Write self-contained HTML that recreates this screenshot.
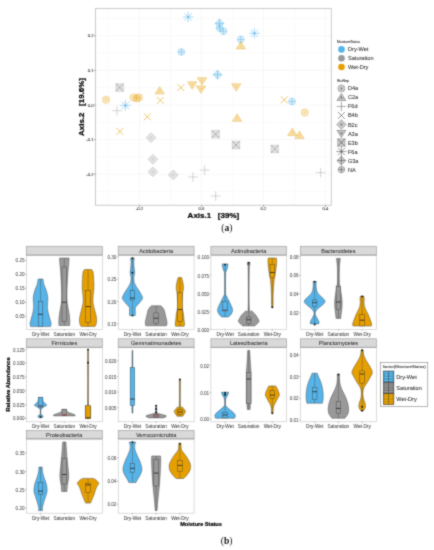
<!DOCTYPE html>
<html><head><meta charset="utf-8"><title>Figure</title>
<style>
html,body{margin:0;padding:0;background:#fff;}
body{width:434px;height:550px;overflow:hidden;}
svg{display:block;}
</style></head>
<body>
<svg width="434" height="550" viewBox="0 0 434 550">
<defs><filter id="soft" x="-50%" y="-50%" width="200%" height="200%"><feGaussianBlur stdDeviation="0.3"/></filter>
<filter id="glob" x="0" y="0" width="434" height="550" filterUnits="userSpaceOnUse" color-interpolation-filters="sRGB"><feConvolveMatrix order="3" kernelMatrix="1 2 1 2 12 2 1 2 1" divisor="24" edgeMode="duplicate"/></filter></defs>
<rect x="0" y="0" width="434" height="550" fill="#fff"/>
<g filter="url(#glob)">
<rect x="0" y="0" width="434" height="550" fill="#fff"/>
<rect x="95.5" y="8.4" width="235.7" height="196.8" fill="#fff"/>
<line x1="108.5" y1="8.4" x2="108.5" y2="205.2" stroke="#f6f6f6" stroke-width="0.5"/>
<line x1="170.5" y1="8.4" x2="170.5" y2="205.2" stroke="#f6f6f6" stroke-width="0.5"/>
<line x1="232.5" y1="8.4" x2="232.5" y2="205.2" stroke="#f6f6f6" stroke-width="0.5"/>
<line x1="294.5" y1="8.4" x2="294.5" y2="205.2" stroke="#f6f6f6" stroke-width="0.5"/>
<line x1="95.5" y1="191.5" x2="331.2" y2="191.5" stroke="#f6f6f6" stroke-width="0.5"/>
<line x1="95.5" y1="156.9" x2="331.2" y2="156.9" stroke="#f6f6f6" stroke-width="0.5"/>
<line x1="95.5" y1="122.3" x2="331.2" y2="122.3" stroke="#f6f6f6" stroke-width="0.5"/>
<line x1="95.5" y1="87.7" x2="331.2" y2="87.7" stroke="#f6f6f6" stroke-width="0.5"/>
<line x1="95.5" y1="53.1" x2="331.2" y2="53.1" stroke="#f6f6f6" stroke-width="0.5"/>
<line x1="95.5" y1="18.5" x2="331.2" y2="18.5" stroke="#f6f6f6" stroke-width="0.5"/>
<line x1="139.5" y1="8.4" x2="139.5" y2="205.2" stroke="#f2f2f2" stroke-width="0.6"/>
<line x1="201.5" y1="8.4" x2="201.5" y2="205.2" stroke="#f2f2f2" stroke-width="0.6"/>
<line x1="263.5" y1="8.4" x2="263.5" y2="205.2" stroke="#f2f2f2" stroke-width="0.6"/>
<line x1="325.5" y1="8.4" x2="325.5" y2="205.2" stroke="#f2f2f2" stroke-width="0.6"/>
<line x1="95.5" y1="174.2" x2="331.2" y2="174.2" stroke="#f2f2f2" stroke-width="0.6"/>
<line x1="95.5" y1="139.6" x2="331.2" y2="139.6" stroke="#f2f2f2" stroke-width="0.6"/>
<line x1="95.5" y1="105" x2="331.2" y2="105" stroke="#f2f2f2" stroke-width="0.6"/>
<line x1="95.5" y1="70.4" x2="331.2" y2="70.4" stroke="#f2f2f2" stroke-width="0.6"/>
<line x1="95.5" y1="35.8" x2="331.2" y2="35.8" stroke="#f2f2f2" stroke-width="0.6"/>
<g opacity="1.0" stroke="#56B4E9" fill="none" stroke-width="1.0" filter="url(#soft)"><path d="M182.98 17L193.42 17M184.51 13.31L191.89 20.69M188.2 11.78L188.2 22.22M191.89 13.31L184.51 20.69" stroke-width="0.7" stroke-opacity="0.75"/><circle cx="188.2" cy="17" r="1.0" fill="#56B4E9" stroke="none" opacity="0.6"/></g>
<g opacity="1.0" stroke="#56B4E9" fill="none" stroke-width="1.0" filter="url(#soft)"><circle cx="181.4" cy="51.9" r="3.42" fill="#56B4E9" fill-opacity="0.22" stroke-opacity="0.32" stroke-width="0.9"/><path d="M177.8 51.9H185M181.4 48.3V55.5" stroke-width="0.7" stroke-opacity="0.65"/></g>
<g opacity="1.0" stroke="#56B4E9" fill="none" stroke-width="1.0" filter="url(#soft)"><polygon points="219.5,18.9 224,23.4 219.5,27.9 215,23.4" fill="#56B4E9" fill-opacity="0.26" stroke-opacity="0.38" stroke-width="0.9"/><path d="M215 23.4H224M219.5 18.9V27.9" stroke-width="0.7" stroke-opacity="0.75"/></g>
<g opacity="1.0" stroke="#56B4E9" fill="none" stroke-width="1.0" filter="url(#soft)"><circle cx="219.5" cy="28.1" r="3.42" fill="#56B4E9" fill-opacity="0.22" stroke-opacity="0.32" stroke-width="0.9"/><path d="M215.9 28.1H223.1M219.5 24.5V31.7" stroke-width="0.7" stroke-opacity="0.65"/></g>
<g opacity="1.0" stroke="#56B4E9" fill="none" stroke-width="1.0" filter="url(#soft)"><circle cx="223.5" cy="31.2" r="3.42" fill="#56B4E9" fill-opacity="0.22" stroke-opacity="0.32" stroke-width="0.9"/><path d="M219.9 31.2H227.1M223.5 27.6V34.8" stroke-width="0.7" stroke-opacity="0.65"/></g>
<g opacity="1.0" stroke="#56B4E9" fill="none" stroke-width="1.0" filter="url(#soft)"><circle cx="240.8" cy="39.5" r="3.42" fill="#56B4E9" fill-opacity="0.22" stroke-opacity="0.32" stroke-width="0.9"/><path d="M237.2 39.5H244.4M240.8 35.9V43.1" stroke-width="0.7" stroke-opacity="0.65"/></g>
<g opacity="1.0" stroke="#56B4E9" fill="none" stroke-width="1.0" filter="url(#soft)"><path d="M249.18 33.3L259.62 33.3M250.71 29.61L258.09 36.99M254.4 28.08L254.4 38.52M258.09 29.61L250.71 36.99" stroke-width="0.7" stroke-opacity="0.75"/><circle cx="254.4" cy="33.3" r="1.0" fill="#56B4E9" stroke="none" opacity="0.6"/></g>
<g opacity="1.0" stroke="#56B4E9" fill="none" stroke-width="1.0" filter="url(#soft)"><polygon points="217.5,70.2 222,74.7 217.5,79.2 213,74.7" fill="#56B4E9" fill-opacity="0.26" stroke-opacity="0.38" stroke-width="0.9"/><path d="M213 74.7H222M217.5 70.2V79.2" stroke-width="0.7" stroke-opacity="0.75"/></g>
<g opacity="1.0" stroke="#56B4E9" fill="none" stroke-width="1.0" filter="url(#soft)"><path d="M120.18 105.4L130.62 105.4M121.71 101.71L129.09 109.09M125.4 100.18L125.4 110.62M129.09 101.71L121.71 109.09" stroke-width="0.7" stroke-opacity="0.75"/><circle cx="125.4" cy="105.4" r="1.0" fill="#56B4E9" stroke="none" opacity="0.6"/></g>
<g opacity="1.0" stroke="#56B4E9" fill="none" stroke-width="1.0" filter="url(#soft)"><circle cx="292.1" cy="101.5" r="3.42" fill="#56B4E9" fill-opacity="0.22" stroke-opacity="0.32" stroke-width="0.9"/><path d="M288.5 101.5H295.7M292.1 97.9V105.1" stroke-width="0.7" stroke-opacity="0.65"/></g>
<g opacity="1.0" stroke="#E69F00" fill="none" stroke-width="1.0" filter="url(#soft)"><polygon points="240.8,41.56 236.12,48.94 245.48,48.94" fill="#E69F00" fill-opacity="0.32" stroke-opacity="0.38" stroke-width="0.9" stroke-linejoin="round"/><polygon points="240.8,44.26 239.18,46.96 242.42,46.96" fill="#E69F00" stroke="none" opacity="0.22"/></g>
<g opacity="1.0" stroke="#E69F00" fill="none" stroke-width="1.0" filter="url(#soft)"><circle cx="106" cy="99.7" r="3.24" fill="#E69F00" fill-opacity="0.16" stroke-opacity="0.32" stroke-width="1.4"/><circle cx="106" cy="99.7" r="1.44" fill="#E69F00" stroke="none" opacity="0.3"/></g>
<g opacity="1.0" stroke="#E69F00" fill="none" stroke-width="1.0" filter="url(#soft)"><circle cx="133.5" cy="97.5" r="3.24" fill="#E69F00" fill-opacity="0.16" stroke-opacity="0.32" stroke-width="1.4"/><circle cx="133.5" cy="97.5" r="1.44" fill="#E69F00" stroke="none" opacity="0.3"/></g>
<g opacity="1.0" stroke="#E69F00" fill="none" stroke-width="1.0" filter="url(#soft)"><circle cx="136.8" cy="98.4" r="3.24" fill="#E69F00" fill-opacity="0.16" stroke-opacity="0.32" stroke-width="1.4"/><circle cx="136.8" cy="98.4" r="1.44" fill="#E69F00" stroke="none" opacity="0.3"/></g>
<g opacity="1.0" stroke="#E69F00" fill="none" stroke-width="1.0" filter="url(#soft)"><circle cx="139" cy="97.5" r="3.24" fill="#E69F00" fill-opacity="0.16" stroke-opacity="0.32" stroke-width="1.4"/><circle cx="139" cy="97.5" r="1.44" fill="#E69F00" stroke="none" opacity="0.3"/></g>
<g opacity="1.0" stroke="#E69F00" fill="none" stroke-width="1.0" filter="url(#soft)"><polygon points="159.7,86.56 155.02,93.94 164.38,93.94" fill="#E69F00" fill-opacity="0.32" stroke-opacity="0.38" stroke-width="0.9" stroke-linejoin="round"/><polygon points="159.7,89.26 158.08,91.96 161.32,91.96" fill="#E69F00" stroke="none" opacity="0.22"/></g>
<g opacity="1.0" stroke="#E69F00" fill="none" stroke-width="1.0" filter="url(#soft)"><path d="M156.88 96.98L163.72 103.82M156.88 103.82L163.72 96.98" stroke-width="0.8" stroke-opacity="0.75"/></g>
<g opacity="1.0" stroke="#E69F00" fill="none" stroke-width="1.0" filter="url(#soft)"><path d="M177.38 84.18L184.22 91.02M177.38 91.02L184.22 84.18" stroke-width="0.8" stroke-opacity="0.75"/></g>
<g opacity="1.0" stroke="#E69F00" fill="none" stroke-width="1.0" filter="url(#soft)"><path d="M143.88 113.38L150.72 120.22M143.88 120.22L150.72 113.38" stroke-width="0.8" stroke-opacity="0.75"/></g>
<g opacity="1.0" stroke="#E69F00" fill="none" stroke-width="1.0" filter="url(#soft)"><polygon points="192.2,89.24 187.52,81.86 196.88,81.86" fill="#E69F00" fill-opacity="0.32" stroke-opacity="0.38" stroke-width="0.9" stroke-linejoin="round"/><polygon points="192.2,86.54 190.58,83.84 193.82,83.84" fill="#E69F00" stroke="none" opacity="0.22"/></g>
<g opacity="1.0" stroke="#E69F00" fill="none" stroke-width="1.0" filter="url(#soft)"><polygon points="202,85.04 197.32,77.66 206.68,77.66" fill="#E69F00" fill-opacity="0.32" stroke-opacity="0.38" stroke-width="0.9" stroke-linejoin="round"/><polygon points="202,82.34 200.38,79.64 203.62,79.64" fill="#E69F00" stroke="none" opacity="0.22"/></g>
<g opacity="1.0" stroke="#E69F00" fill="none" stroke-width="1.0" filter="url(#soft)"><polygon points="200.9,93.34 196.22,85.96 205.58,85.96" fill="#E69F00" fill-opacity="0.32" stroke-opacity="0.38" stroke-width="0.9" stroke-linejoin="round"/><polygon points="200.9,90.64 199.28,87.94 202.52,87.94" fill="#E69F00" stroke="none" opacity="0.22"/></g>
<g opacity="1.0" stroke="#E69F00" fill="none" stroke-width="1.0" filter="url(#soft)"><polygon points="236.2,91.24 231.52,83.86 240.88,83.86" fill="#E69F00" fill-opacity="0.32" stroke-opacity="0.38" stroke-width="0.9" stroke-linejoin="round"/><polygon points="236.2,88.54 234.58,85.84 237.82,85.84" fill="#E69F00" stroke="none" opacity="0.22"/></g>
<g opacity="1.0" stroke="#E69F00" fill="none" stroke-width="1.0" filter="url(#soft)"><path d="M280.88 96.38L287.72 103.22M280.88 103.22L287.72 96.38" stroke-width="0.8" stroke-opacity="0.75"/></g>
<g opacity="1.0" stroke="#E69F00" fill="none" stroke-width="1.0" filter="url(#soft)"><circle cx="304.8" cy="112.5" r="3.24" fill="#E69F00" fill-opacity="0.16" stroke-opacity="0.32" stroke-width="1.4"/><circle cx="304.8" cy="112.5" r="1.44" fill="#E69F00" stroke="none" opacity="0.3"/></g>
<g opacity="1.0" stroke="#E69F00" fill="none" stroke-width="1.0" filter="url(#soft)"><path d="M116.48 127.98L123.32 134.82M116.48 134.82L123.32 127.98" stroke-width="0.8" stroke-opacity="0.75"/></g>
<g opacity="1.0" stroke="#E69F00" fill="none" stroke-width="1.0" filter="url(#soft)"><polygon points="237.1,113.86 232.42,121.24 241.78,121.24" fill="#E69F00" fill-opacity="0.32" stroke-opacity="0.38" stroke-width="0.9" stroke-linejoin="round"/><polygon points="237.1,116.56 235.48,119.26 238.72,119.26" fill="#E69F00" stroke="none" opacity="0.22"/></g>
<g opacity="1.0" stroke="#E69F00" fill="none" stroke-width="1.0" filter="url(#soft)"><polygon points="292.3,128.16 287.62,135.54 296.98,135.54" fill="#E69F00" fill-opacity="0.32" stroke-opacity="0.38" stroke-width="0.9" stroke-linejoin="round"/><polygon points="292.3,130.86 290.68,133.56 293.92,133.56" fill="#E69F00" stroke="none" opacity="0.22"/></g>
<g opacity="1.0" stroke="#E69F00" fill="none" stroke-width="1.0" filter="url(#soft)"><polygon points="299.5,131.06 294.82,138.44 304.18,138.44" fill="#E69F00" fill-opacity="0.32" stroke-opacity="0.38" stroke-width="0.9" stroke-linejoin="round"/><polygon points="299.5,133.76 297.88,136.46 301.12,136.46" fill="#E69F00" stroke="none" opacity="0.22"/></g>
<g opacity="1.0" stroke="#999999" fill="none" stroke-width="1.0" filter="url(#soft)"><rect x="115.92" y="83.72" width="7.56" height="7.56" fill="#999999" fill-opacity="0.25" stroke-opacity="0.35" stroke-width="0.8"/><path d="M115.92 83.72L123.48 91.28M115.92 91.28L123.48 83.72" stroke-width="0.9" stroke-opacity="0.8"/></g>
<g opacity="1.0" stroke="#999999" fill="none" stroke-width="1.0" filter="url(#soft)"><path d="M112.14 110.7H121.86M117 105.84V115.56" stroke-width="0.65" stroke-opacity="0.65"/></g>
<g opacity="1.0" stroke="#999999" fill="none" stroke-width="1.0" filter="url(#soft)"><polygon points="151,132.74 155.86,137.6 151,142.46 146.14,137.6" fill="#999999" fill-opacity="0.256" stroke-opacity="0.38" stroke-width="0.9"/><polygon points="151,135.66 152.94,137.6 151,139.54 149.06,137.6" fill="#999999" stroke="none" opacity="0.22"/></g>
<g opacity="1.0" stroke="#999999" fill="none" stroke-width="1.0" filter="url(#soft)"><polygon points="152.9,154.44 157.76,159.3 152.9,164.16 148.04,159.3" fill="#999999" fill-opacity="0.256" stroke-opacity="0.38" stroke-width="0.9"/><polygon points="152.9,157.36 154.84,159.3 152.9,161.24 150.96,159.3" fill="#999999" stroke="none" opacity="0.22"/></g>
<g opacity="1.0" stroke="#999999" fill="none" stroke-width="1.0" filter="url(#soft)"><polygon points="152.9,166.94 157.76,171.8 152.9,176.66 148.04,171.8" fill="#999999" fill-opacity="0.256" stroke-opacity="0.38" stroke-width="0.9"/><polygon points="152.9,169.86 154.84,171.8 152.9,173.74 150.96,171.8" fill="#999999" stroke="none" opacity="0.22"/></g>
<g opacity="1.0" stroke="#999999" fill="none" stroke-width="1.0" filter="url(#soft)"><polygon points="173.2,170.04 178.06,174.9 173.2,179.76 168.34,174.9" fill="#999999" fill-opacity="0.256" stroke-opacity="0.38" stroke-width="0.9"/><polygon points="173.2,172.96 175.14,174.9 173.2,176.84 171.26,174.9" fill="#999999" stroke="none" opacity="0.22"/></g>
<g opacity="1.0" stroke="#999999" fill="none" stroke-width="1.0" filter="url(#soft)"><path d="M188.04 177H197.76M192.9 172.14V181.86" stroke-width="0.65" stroke-opacity="0.65"/></g>
<g opacity="1.0" stroke="#999999" fill="none" stroke-width="1.0" filter="url(#soft)"><path d="M199.84 170.1H209.56M204.7 165.24V174.96" stroke-width="0.65" stroke-opacity="0.65"/></g>
<g opacity="1.0" stroke="#999999" fill="none" stroke-width="1.0" filter="url(#soft)"><path d="M210.84 196H220.56M215.7 191.14V200.86" stroke-width="0.65" stroke-opacity="0.65"/></g>
<g opacity="1.0" stroke="#999999" fill="none" stroke-width="1.0" filter="url(#soft)"><path d="M315.74 172.6H325.46M320.6 167.74V177.46" stroke-width="0.65" stroke-opacity="0.65"/></g>
<g opacity="1.0" stroke="#999999" fill="none" stroke-width="1.0" filter="url(#soft)"><rect x="211.82" y="130.42" width="7.56" height="7.56" fill="#999999" fill-opacity="0.25" stroke-opacity="0.35" stroke-width="0.8"/><path d="M211.82 130.42L219.38 137.98M211.82 137.98L219.38 130.42" stroke-width="0.9" stroke-opacity="0.8"/></g>
<g opacity="1.0" stroke="#999999" fill="none" stroke-width="1.0" filter="url(#soft)"><rect x="232.22" y="141.22" width="7.56" height="7.56" fill="#999999" fill-opacity="0.25" stroke-opacity="0.35" stroke-width="0.8"/><path d="M232.22 141.22L239.78 148.78M232.22 148.78L239.78 141.22" stroke-width="0.9" stroke-opacity="0.8"/></g>
<g opacity="1.0" stroke="#999999" fill="none" stroke-width="1.0" filter="url(#soft)"><rect x="271.02" y="145.22" width="7.56" height="7.56" fill="#999999" fill-opacity="0.25" stroke-opacity="0.35" stroke-width="0.8"/><path d="M271.02 145.22L278.58 152.78M271.02 152.78L278.58 145.22" stroke-width="0.9" stroke-opacity="0.8"/></g>
<rect x="95.5" y="8.4" width="235.7" height="196.8" fill="none" stroke="#b5b5b5" stroke-width="0.7"/>
<line x1="139.5" y1="205.2" x2="139.5" y2="206.8" stroke="#333" stroke-width="0.4"/>
<text x="139.5" y="210.41" font-size="4.2" text-anchor="middle" font-weight="normal" fill="#2b2b2b" stroke="#2b2b2b" stroke-width="0.05" font-family="'Liberation Sans', Arial, sans-serif">-0.2</text>
<line x1="201.5" y1="205.2" x2="201.5" y2="206.8" stroke="#333" stroke-width="0.4"/>
<text x="201.5" y="210.41" font-size="4.2" text-anchor="middle" font-weight="normal" fill="#2b2b2b" stroke="#2b2b2b" stroke-width="0.05" font-family="'Liberation Sans', Arial, sans-serif">0.0</text>
<line x1="263.5" y1="205.2" x2="263.5" y2="206.8" stroke="#333" stroke-width="0.4"/>
<text x="263.5" y="210.41" font-size="4.2" text-anchor="middle" font-weight="normal" fill="#2b2b2b" stroke="#2b2b2b" stroke-width="0.05" font-family="'Liberation Sans', Arial, sans-serif">0.2</text>
<line x1="325.5" y1="205.2" x2="325.5" y2="206.8" stroke="#333" stroke-width="0.4"/>
<text x="325.5" y="210.41" font-size="4.2" text-anchor="middle" font-weight="normal" fill="#2b2b2b" stroke="#2b2b2b" stroke-width="0.05" font-family="'Liberation Sans', Arial, sans-serif">0.4</text>
<line x1="93.9" y1="35.8" x2="95.5" y2="35.8" stroke="#333" stroke-width="0.4"/>
<text x="93.5" y="37.31" font-size="4.2" text-anchor="end" font-weight="normal" fill="#2b2b2b" stroke="#2b2b2b" stroke-width="0.05" font-family="'Liberation Sans', Arial, sans-serif">0.2</text>
<line x1="93.9" y1="70.4" x2="95.5" y2="70.4" stroke="#333" stroke-width="0.4"/>
<text x="93.5" y="71.91" font-size="4.2" text-anchor="end" font-weight="normal" fill="#2b2b2b" stroke="#2b2b2b" stroke-width="0.05" font-family="'Liberation Sans', Arial, sans-serif">0.1</text>
<line x1="93.9" y1="105" x2="95.5" y2="105" stroke="#333" stroke-width="0.4"/>
<text x="93.5" y="106.51" font-size="4.2" text-anchor="end" font-weight="normal" fill="#2b2b2b" stroke="#2b2b2b" stroke-width="0.05" font-family="'Liberation Sans', Arial, sans-serif">0.0</text>
<line x1="93.9" y1="139.6" x2="95.5" y2="139.6" stroke="#333" stroke-width="0.4"/>
<text x="93.5" y="141.11" font-size="4.2" text-anchor="end" font-weight="normal" fill="#2b2b2b" stroke="#2b2b2b" stroke-width="0.05" font-family="'Liberation Sans', Arial, sans-serif">-0.1</text>
<line x1="93.9" y1="174.2" x2="95.5" y2="174.2" stroke="#333" stroke-width="0.4"/>
<text x="93.5" y="175.71" font-size="4.2" text-anchor="end" font-weight="normal" fill="#2b2b2b" stroke="#2b2b2b" stroke-width="0.05" font-family="'Liberation Sans', Arial, sans-serif">-0.2</text>
<text x="213.4" y="217.98" font-size="8" text-anchor="middle" font-weight="bold" fill="#000" stroke="#000" stroke-width="0.22" font-family="'Liberation Sans', Arial, sans-serif">Axis.1&#160;&#160;&#160;[39%]</text>
<text x="81.2" y="109.86" font-size="7.94" text-anchor="middle" font-weight="bold" fill="#000" stroke="#000" stroke-width="0.22" font-family="'Liberation Sans', Arial, sans-serif" transform="rotate(-90 81.2 107)">Axis.2&#160;&#160;&#160;[19.6%]</text>
<text x="337.1" y="42.84" font-size="3.45" text-anchor="start" font-weight="normal" fill="#222" stroke="#222" stroke-width="0.05" font-family="'Liberation Sans', Arial, sans-serif">MoistureStatus</text>
<circle cx="341.5" cy="49.4" r="3.3" fill="#56B4E9"/>
<text x="348" y="51.42" font-size="5.6" text-anchor="start" font-weight="normal" fill="#2b2b2b" stroke="#2b2b2b" stroke-width="0.05" font-family="'Liberation Sans', Arial, sans-serif">Dry-Wet</text>
<circle cx="341.5" cy="58.2" r="3.3" fill="#999999"/>
<text x="348" y="60.22" font-size="5.6" text-anchor="start" font-weight="normal" fill="#2b2b2b" stroke="#2b2b2b" stroke-width="0.05" font-family="'Liberation Sans', Arial, sans-serif">Saturation</text>
<circle cx="341.5" cy="67" r="3.3" fill="#E69F00"/>
<text x="348" y="69.02" font-size="5.6" text-anchor="start" font-weight="normal" fill="#2b2b2b" stroke="#2b2b2b" stroke-width="0.05" font-family="'Liberation Sans', Arial, sans-serif">Wet-Dry</text>
<text x="337.2" y="82.1" font-size="3.6" text-anchor="start" font-weight="normal" fill="#222" stroke="#222" stroke-width="0.05" font-family="'Liberation Sans', Arial, sans-serif">BioRep</text>
<g opacity="0.9" stroke="#6a6a6a" fill="none" stroke-width="1.0" filter="url(#soft)"><circle cx="341.4" cy="88.4" r="3.15" fill="#6a6a6a" fill-opacity="0.16" stroke-opacity="0.32" stroke-width="1.4"/><circle cx="341.4" cy="88.4" r="1.4" fill="#6a6a6a" stroke="none" opacity="0.3"/></g>
<g opacity="0.6" stroke="#6a6a6a" fill="none" stroke-width="1.0" filter="url(#soft)"><circle cx="341.4" cy="88.4" r="3.15" fill="#6a6a6a" fill-opacity="0.16" stroke-opacity="0.32" stroke-width="1.4"/><circle cx="341.4" cy="88.4" r="1.4" fill="#6a6a6a" stroke="none" opacity="0.3"/></g>
<circle cx="341.4" cy="88.4" r="0.8" fill="#555" opacity="0.7" filter="url(#soft)"/>
<text x="347.9" y="90.42" font-size="5.6" text-anchor="start" font-weight="normal" fill="#2b2b2b" stroke="#2b2b2b" stroke-width="0.05" font-family="'Liberation Sans', Arial, sans-serif">D4a</text>
<g opacity="0.9" stroke="#6a6a6a" fill="none" stroke-width="1.0" filter="url(#soft)"><polygon points="341.4,93.39 336.85,100.57 345.95,100.57" fill="#6a6a6a" fill-opacity="0.32" stroke-opacity="0.38" stroke-width="0.9" stroke-linejoin="round"/><polygon points="341.4,96.02 339.82,98.64 342.97,98.64" fill="#6a6a6a" stroke="none" opacity="0.22"/></g>
<g opacity="0.6" stroke="#6a6a6a" fill="none" stroke-width="1.0" filter="url(#soft)"><polygon points="341.4,93.39 336.85,100.57 345.95,100.57" fill="#6a6a6a" fill-opacity="0.32" stroke-opacity="0.38" stroke-width="0.9" stroke-linejoin="round"/><polygon points="341.4,96.02 339.82,98.64 342.97,98.64" fill="#6a6a6a" stroke="none" opacity="0.22"/></g>
<circle cx="341.4" cy="97.42" r="0.8" fill="#555" opacity="0.7" filter="url(#soft)"/>
<text x="347.9" y="99.44" font-size="5.6" text-anchor="start" font-weight="normal" fill="#2b2b2b" stroke="#2b2b2b" stroke-width="0.05" font-family="'Liberation Sans', Arial, sans-serif">C2a</text>
<g opacity="0.9" stroke="#6a6a6a" fill="none" stroke-width="1.0" filter="url(#soft)"><path d="M336.67 106.44H346.12M341.4 101.72V111.16" stroke-width="0.65" stroke-opacity="0.65"/></g>
<g opacity="0.6" stroke="#6a6a6a" fill="none" stroke-width="1.0" filter="url(#soft)"><path d="M336.67 106.44H346.12M341.4 101.72V111.16" stroke-width="0.65" stroke-opacity="0.65"/></g>
<text x="347.9" y="108.46" font-size="5.6" text-anchor="start" font-weight="normal" fill="#2b2b2b" stroke="#2b2b2b" stroke-width="0.05" font-family="'Liberation Sans', Arial, sans-serif">F6d</text>
<g opacity="0.9" stroke="#6a6a6a" fill="none" stroke-width="1.0" filter="url(#soft)"><path d="M338.07 112.14L344.72 118.79M338.07 118.79L344.72 112.14" stroke-width="0.8" stroke-opacity="0.75"/></g>
<g opacity="0.6" stroke="#6a6a6a" fill="none" stroke-width="1.0" filter="url(#soft)"><path d="M338.07 112.14L344.72 118.79M338.07 118.79L344.72 112.14" stroke-width="0.8" stroke-opacity="0.75"/></g>
<text x="347.9" y="117.48" font-size="5.6" text-anchor="start" font-weight="normal" fill="#2b2b2b" stroke="#2b2b2b" stroke-width="0.05" font-family="'Liberation Sans', Arial, sans-serif">B4b</text>
<g opacity="0.9" stroke="#6a6a6a" fill="none" stroke-width="1.0" filter="url(#soft)"><polygon points="341.4,119.76 346.12,124.48 341.4,129.21 336.67,124.48" fill="#6a6a6a" fill-opacity="0.256" stroke-opacity="0.38" stroke-width="0.9"/><polygon points="341.4,122.59 343.29,124.48 341.4,126.37 339.51,124.48" fill="#6a6a6a" stroke="none" opacity="0.22"/></g>
<g opacity="0.6" stroke="#6a6a6a" fill="none" stroke-width="1.0" filter="url(#soft)"><polygon points="341.4,119.76 346.12,124.48 341.4,129.21 336.67,124.48" fill="#6a6a6a" fill-opacity="0.256" stroke-opacity="0.38" stroke-width="0.9"/><polygon points="341.4,122.59 343.29,124.48 341.4,126.37 339.51,124.48" fill="#6a6a6a" stroke="none" opacity="0.22"/></g>
<circle cx="341.4" cy="124.48" r="0.8" fill="#555" opacity="0.7" filter="url(#soft)"/>
<text x="347.9" y="126.5" font-size="5.6" text-anchor="start" font-weight="normal" fill="#2b2b2b" stroke="#2b2b2b" stroke-width="0.05" font-family="'Liberation Sans', Arial, sans-serif">B2c</text>
<g opacity="0.9" stroke="#6a6a6a" fill="none" stroke-width="1.0" filter="url(#soft)"><polygon points="341.4,137.53 336.85,130.35 345.95,130.35" fill="#6a6a6a" fill-opacity="0.32" stroke-opacity="0.38" stroke-width="0.9" stroke-linejoin="round"/><polygon points="341.4,134.9 339.82,132.28 342.97,132.28" fill="#6a6a6a" stroke="none" opacity="0.22"/></g>
<g opacity="0.6" stroke="#6a6a6a" fill="none" stroke-width="1.0" filter="url(#soft)"><polygon points="341.4,137.53 336.85,130.35 345.95,130.35" fill="#6a6a6a" fill-opacity="0.32" stroke-opacity="0.38" stroke-width="0.9" stroke-linejoin="round"/><polygon points="341.4,134.9 339.82,132.28 342.97,132.28" fill="#6a6a6a" stroke="none" opacity="0.22"/></g>
<circle cx="341.4" cy="133.5" r="0.8" fill="#555" opacity="0.7" filter="url(#soft)"/>
<text x="347.9" y="135.52" font-size="5.6" text-anchor="start" font-weight="normal" fill="#2b2b2b" stroke="#2b2b2b" stroke-width="0.05" font-family="'Liberation Sans', Arial, sans-serif">A3a</text>
<g opacity="0.9" stroke="#6a6a6a" fill="none" stroke-width="1.0" filter="url(#soft)"><rect x="337.72" y="138.84" width="7.35" height="7.35" fill="#6a6a6a" fill-opacity="0.25" stroke-opacity="0.35" stroke-width="0.8"/><path d="M337.72 138.84L345.07 146.2M337.72 146.2L345.07 138.84" stroke-width="0.9" stroke-opacity="0.8"/></g>
<g opacity="0.6" stroke="#6a6a6a" fill="none" stroke-width="1.0" filter="url(#soft)"><rect x="337.72" y="138.84" width="7.35" height="7.35" fill="#6a6a6a" fill-opacity="0.25" stroke-opacity="0.35" stroke-width="0.8"/><path d="M337.72 138.84L345.07 146.2M337.72 146.2L345.07 138.84" stroke-width="0.9" stroke-opacity="0.8"/></g>
<circle cx="341.4" cy="142.52" r="0.8" fill="#555" opacity="0.7" filter="url(#soft)"/>
<text x="347.9" y="144.54" font-size="5.6" text-anchor="start" font-weight="normal" fill="#2b2b2b" stroke="#2b2b2b" stroke-width="0.05" font-family="'Liberation Sans', Arial, sans-serif">E3b</text>
<g opacity="0.9" stroke="#6a6a6a" fill="none" stroke-width="1.0" filter="url(#soft)"><path d="M336.32 151.54L346.47 151.54M337.81 147.95L344.99 155.13M341.4 146.47L341.4 156.62M344.99 147.95L337.81 155.13" stroke-width="0.7" stroke-opacity="0.75"/><circle cx="341.4" cy="151.54" r="1.0" fill="#6a6a6a" stroke="none" opacity="0.6"/></g>
<g opacity="0.6" stroke="#6a6a6a" fill="none" stroke-width="1.0" filter="url(#soft)"><path d="M336.32 151.54L346.47 151.54M337.81 147.95L344.99 155.13M341.4 146.47L341.4 156.62M344.99 147.95L337.81 155.13" stroke-width="0.7" stroke-opacity="0.75"/><circle cx="341.4" cy="151.54" r="1.0" fill="#6a6a6a" stroke="none" opacity="0.6"/></g>
<circle cx="341.4" cy="151.54" r="0.8" fill="#555" opacity="0.7" filter="url(#soft)"/>
<text x="347.9" y="153.56" font-size="5.6" text-anchor="start" font-weight="normal" fill="#2b2b2b" stroke="#2b2b2b" stroke-width="0.05" font-family="'Liberation Sans', Arial, sans-serif">F6a</text>
<g opacity="0.9" stroke="#6a6a6a" fill="none" stroke-width="1.0" filter="url(#soft)"><polygon points="341.4,156.19 345.77,160.56 341.4,164.94 337.02,160.56" fill="#6a6a6a" fill-opacity="0.26" stroke-opacity="0.38" stroke-width="0.9"/><path d="M337.02 160.56H345.77M341.4 156.19V164.94" stroke-width="0.7" stroke-opacity="0.75"/></g>
<g opacity="0.6" stroke="#6a6a6a" fill="none" stroke-width="1.0" filter="url(#soft)"><polygon points="341.4,156.19 345.77,160.56 341.4,164.94 337.02,160.56" fill="#6a6a6a" fill-opacity="0.26" stroke-opacity="0.38" stroke-width="0.9"/><path d="M337.02 160.56H345.77M341.4 156.19V164.94" stroke-width="0.7" stroke-opacity="0.75"/></g>
<circle cx="341.4" cy="160.56" r="0.8" fill="#555" opacity="0.7" filter="url(#soft)"/>
<text x="347.9" y="162.58" font-size="5.6" text-anchor="start" font-weight="normal" fill="#2b2b2b" stroke="#2b2b2b" stroke-width="0.05" font-family="'Liberation Sans', Arial, sans-serif">G3a</text>
<g opacity="0.9" stroke="#6a6a6a" fill="none" stroke-width="1.0" filter="url(#soft)"><circle cx="341.4" cy="169.58" r="3.32" fill="#6a6a6a" fill-opacity="0.22" stroke-opacity="0.32" stroke-width="0.9"/><path d="M337.9 169.58H344.9M341.4 166.08V173.08" stroke-width="0.7" stroke-opacity="0.65"/></g>
<g opacity="0.6" stroke="#6a6a6a" fill="none" stroke-width="1.0" filter="url(#soft)"><circle cx="341.4" cy="169.58" r="3.32" fill="#6a6a6a" fill-opacity="0.22" stroke-opacity="0.32" stroke-width="0.9"/><path d="M337.9 169.58H344.9M341.4 166.08V173.08" stroke-width="0.7" stroke-opacity="0.65"/></g>
<circle cx="341.4" cy="169.58" r="0.8" fill="#555" opacity="0.7" filter="url(#soft)"/>
<text x="347.9" y="171.6" font-size="5.6" text-anchor="start" font-weight="normal" fill="#2b2b2b" stroke="#2b2b2b" stroke-width="0.05" font-family="'Liberation Sans', Arial, sans-serif">NA</text>
<text x="226.8" y="231.06" font-size="9.6" text-anchor="middle" font-weight="normal" fill="#111" stroke="#111" stroke-width="0" font-family="'Liberation Serif', 'Times New Roman', serif">(<tspan font-weight="bold">a</tspan>)</text>
<rect x="26.3" y="246.3" width="76" height="9" fill="#d9d9d9" stroke="#a3a3a3" stroke-width="0.7"/>
<rect x="26.3" y="255.3" width="76" height="74.1" fill="#fff" stroke="#c4c4c4" stroke-width="0.6"/>
<line x1="26.3" y1="255" x2="102.3" y2="255" stroke="#9a9a9a" stroke-width="0.8"/>
<line x1="25" y1="260.4" x2="26.3" y2="260.4" stroke="#555" stroke-width="0.4"/>
<text x="24.5" y="262.46" font-size="4.6" text-anchor="end" font-weight="normal" fill="#505050" stroke="#505050" stroke-width="0.05" font-family="'Liberation Sans', Arial, sans-serif">0.25</text>
<line x1="25" y1="274.4" x2="26.3" y2="274.4" stroke="#555" stroke-width="0.4"/>
<text x="24.5" y="276.46" font-size="4.6" text-anchor="end" font-weight="normal" fill="#505050" stroke="#505050" stroke-width="0.05" font-family="'Liberation Sans', Arial, sans-serif">0.20</text>
<line x1="25" y1="288.2" x2="26.3" y2="288.2" stroke="#555" stroke-width="0.4"/>
<text x="24.5" y="290.26" font-size="4.6" text-anchor="end" font-weight="normal" fill="#505050" stroke="#505050" stroke-width="0.05" font-family="'Liberation Sans', Arial, sans-serif">0.15</text>
<line x1="25" y1="302.3" x2="26.3" y2="302.3" stroke="#555" stroke-width="0.4"/>
<text x="24.5" y="304.36" font-size="4.6" text-anchor="end" font-weight="normal" fill="#505050" stroke="#505050" stroke-width="0.05" font-family="'Liberation Sans', Arial, sans-serif">0.10</text>
<line x1="25" y1="316.1" x2="26.3" y2="316.1" stroke="#555" stroke-width="0.4"/>
<text x="24.5" y="318.16" font-size="4.6" text-anchor="end" font-weight="normal" fill="#505050" stroke="#505050" stroke-width="0.05" font-family="'Liberation Sans', Arial, sans-serif">0.05</text>
<path d="M42.95 279C43.13 279.97 43.52 282.97 44.05 284.8C44.58 286.63 45.52 287.88 46.15 290C46.78 292.12 47.63 295.02 47.85 297.5C48.07 299.98 47.48 302.92 47.45 304.9C47.42 306.88 47.43 307.78 47.65 309.4C47.87 311.02 48.32 312.85 48.75 314.6C49.18 316.35 49.85 318.4 50.25 319.9C50.65 321.4 51.1 322.48 51.15 323.6C51.2 324.72 50.65 326.1 50.55 326.6L30.55 326.6C30.45 326.1 29.9 324.72 29.95 323.6C30 322.48 30.45 321.4 30.85 319.9C31.25 318.4 31.92 316.35 32.35 314.6C32.78 312.85 33.23 311.02 33.45 309.4C33.67 307.78 33.68 306.88 33.65 304.9C33.62 302.92 33.03 299.98 33.25 297.5C33.47 295.02 34.32 292.12 34.95 290C35.58 287.88 36.52 286.63 37.05 284.8C37.58 282.97 37.97 279.97 38.15 279Z" fill="#56B4E9" stroke="#3c3c3c" stroke-width="0.42"/>
<path d="M40.55 279V301.2M40.55 326.6V326.6" stroke="#444" stroke-width="0.38"/>
<rect x="38.25" y="301.2" width="4.6" height="25.4" fill="#56B4E9" stroke="#3a3a3a" stroke-width="0.4"/>
<line x1="38.25" y1="314.3" x2="42.85" y2="314.3" stroke="#222" stroke-width="0.8"/>
<path d="M69.1 258C69.05 258.87 68.98 260.97 68.8 263.2C68.62 265.43 68.23 268.22 68 271.4C67.77 274.58 67.57 279.12 67.4 282.3C67.23 285.48 67.07 287.78 67 290.5C66.93 293.22 66.93 296.33 67 298.6C67.07 300.87 67.17 302.28 67.4 304.1C67.63 305.92 68.08 307.68 68.4 309.5C68.72 311.32 69.07 313.17 69.3 315C69.53 316.83 69.73 318.75 69.8 320.5C69.87 322.25 69.72 324.67 69.7 325.5L58.9 325.5C58.88 324.67 58.73 322.25 58.8 320.5C58.87 318.75 59.07 316.83 59.3 315C59.53 313.17 59.88 311.32 60.2 309.5C60.52 307.68 60.97 305.92 61.2 304.1C61.43 302.28 61.53 300.87 61.6 298.6C61.67 296.33 61.67 293.22 61.6 290.5C61.53 287.78 61.37 285.48 61.2 282.3C61.03 279.12 60.83 274.58 60.6 271.4C60.37 268.22 59.98 265.43 59.8 263.2C59.62 260.97 59.55 258.87 59.5 258Z" fill="#999999" stroke="#3c3c3c" stroke-width="0.42"/>
<path d="M64.3 258V267M64.3 321.5V325.5" stroke="#444" stroke-width="0.38"/>
<rect x="62" y="267" width="4.6" height="54.5" fill="#999999" stroke="#3a3a3a" stroke-width="0.4"/>
<line x1="62" y1="302.3" x2="66.6" y2="302.3" stroke="#222" stroke-width="0.8"/>
<path d="M91.55 269.5C91.8 269.93 92.68 270.28 93.05 272.1C93.42 273.92 93.6 277.65 93.75 280.4C93.9 283.15 94.05 286.05 93.95 288.6C93.85 291.15 93.3 293.33 93.15 295.7C93 298.07 92.8 300.43 93.05 302.8C93.3 305.17 94.13 307.73 94.65 309.9C95.17 312.07 95.82 314.03 96.15 315.8C96.48 317.57 96.67 319.03 96.65 320.5C96.63 321.97 96.33 323.62 96.05 324.6C95.77 325.58 95.13 326.1 94.95 326.4L81.15 326.4C80.97 326.1 80.33 325.58 80.05 324.6C79.77 323.62 79.47 321.97 79.45 320.5C79.43 319.03 79.62 317.57 79.95 315.8C80.28 314.03 80.93 312.07 81.45 309.9C81.97 307.73 82.8 305.17 83.05 302.8C83.3 300.43 83.1 298.07 82.95 295.7C82.8 293.33 82.25 291.15 82.15 288.6C82.05 286.05 82.2 283.15 82.35 280.4C82.5 277.65 82.68 273.92 83.05 272.1C83.42 270.28 84.3 269.93 84.55 269.5Z" fill="#E69F00" stroke="#3c3c3c" stroke-width="0.42"/>
<path d="M88.05 269.5V290.4M88.05 322.3V326.4" stroke="#444" stroke-width="0.38"/>
<rect x="85.75" y="290.4" width="4.6" height="31.9" fill="#E69F00" stroke="#3a3a3a" stroke-width="0.4"/>
<line x1="85.75" y1="306.6" x2="90.35" y2="306.6" stroke="#222" stroke-width="0.8"/>
<line x1="40.55" y1="329.4" x2="40.55" y2="330.7" stroke="#555" stroke-width="0.4"/>
<text x="40.55" y="335.81" font-size="4.75" text-anchor="middle" font-weight="normal" fill="#454545" stroke="#454545" stroke-width="0.05" font-family="'Liberation Sans', Arial, sans-serif">Dry-Wet</text>
<line x1="64.3" y1="329.4" x2="64.3" y2="330.7" stroke="#555" stroke-width="0.4"/>
<text x="64.3" y="335.81" font-size="4.75" text-anchor="middle" font-weight="normal" fill="#454545" stroke="#454545" stroke-width="0.05" font-family="'Liberation Sans', Arial, sans-serif">Saturation</text>
<line x1="88.05" y1="329.4" x2="88.05" y2="330.7" stroke="#555" stroke-width="0.4"/>
<text x="88.05" y="335.81" font-size="4.75" text-anchor="middle" font-weight="normal" fill="#454545" stroke="#454545" stroke-width="0.05" font-family="'Liberation Sans', Arial, sans-serif">Wet-Dry</text>
<rect x="118.2" y="246.3" width="75.9" height="9" fill="#d9d9d9" stroke="#a3a3a3" stroke-width="0.7"/>
<text x="156.15" y="252.92" font-size="5.6" text-anchor="middle" font-weight="normal" fill="#2e2e2e" stroke="#2e2e2e" stroke-width="0.05" font-family="'Liberation Sans', Arial, sans-serif">Acidobacteria</text>
<rect x="118.2" y="255.3" width="75.9" height="74.1" fill="#fff" stroke="#c4c4c4" stroke-width="0.6"/>
<line x1="118.2" y1="255" x2="194.1" y2="255" stroke="#9a9a9a" stroke-width="0.8"/>
<line x1="116.9" y1="256.9" x2="118.2" y2="256.9" stroke="#555" stroke-width="0.4"/>
<text x="116.4" y="258.96" font-size="4.6" text-anchor="end" font-weight="normal" fill="#505050" stroke="#505050" stroke-width="0.05" font-family="'Liberation Sans', Arial, sans-serif">0.30</text>
<line x1="116.9" y1="279.2" x2="118.2" y2="279.2" stroke="#555" stroke-width="0.4"/>
<text x="116.4" y="281.26" font-size="4.6" text-anchor="end" font-weight="normal" fill="#505050" stroke="#505050" stroke-width="0.05" font-family="'Liberation Sans', Arial, sans-serif">0.25</text>
<line x1="116.9" y1="301.6" x2="118.2" y2="301.6" stroke="#555" stroke-width="0.4"/>
<text x="116.4" y="303.66" font-size="4.6" text-anchor="end" font-weight="normal" fill="#505050" stroke="#505050" stroke-width="0.05" font-family="'Liberation Sans', Arial, sans-serif">0.20</text>
<line x1="116.9" y1="323.8" x2="118.2" y2="323.8" stroke="#555" stroke-width="0.4"/>
<text x="116.4" y="325.86" font-size="4.6" text-anchor="end" font-weight="normal" fill="#505050" stroke="#505050" stroke-width="0.05" font-family="'Liberation Sans', Arial, sans-serif">0.15</text>
<path d="M134.23 258C134.16 258.87 133.83 261.43 133.83 263.2C133.83 264.97 134.08 267.02 134.23 268.6C134.38 270.18 134.8 271.22 134.73 272.7C134.66 274.18 133.91 275.9 133.83 277.5C133.75 279.1 133.84 280.82 134.23 282.3C134.62 283.78 135.4 285.03 136.18 286.4C136.96 287.77 137.97 288.92 138.93 290.5C139.89 292.08 141.35 294.55 141.93 295.9C142.51 297.25 142.81 297.47 142.43 298.6C142.05 299.73 140.73 301.33 139.63 302.7C138.53 304.07 136.55 305.67 135.83 306.8C135.11 307.93 135.41 308.05 135.33 309.5C135.25 310.95 135.33 314.5 135.33 315.5L129.53 315.5C129.53 314.5 129.61 310.95 129.53 309.5C129.45 308.05 129.75 307.93 129.03 306.8C128.31 305.67 126.33 304.07 125.23 302.7C124.13 301.33 122.81 299.73 122.43 298.6C122.05 297.47 122.35 297.25 122.93 295.9C123.51 294.55 124.97 292.08 125.93 290.5C126.89 288.92 127.9 287.77 128.68 286.4C129.46 285.03 130.24 283.78 130.63 282.3C131.02 280.82 131.11 279.1 131.03 277.5C130.95 275.9 130.2 274.18 130.13 272.7C130.06 271.22 130.48 270.18 130.63 268.6C130.78 267.02 131.03 264.97 131.03 263.2C131.03 261.43 130.7 258.87 130.63 258Z" fill="#56B4E9" stroke="#3c3c3c" stroke-width="0.42"/>
<path d="M132.43 258V290.7M132.43 300V315.5" stroke="#444" stroke-width="0.38"/>
<rect x="130.13" y="290.7" width="4.6" height="9.3" fill="#56B4E9" stroke="#3a3a3a" stroke-width="0.4"/>
<line x1="130.13" y1="298" x2="134.73" y2="298" stroke="#222" stroke-width="0.8"/>
<circle cx="132.43" cy="258.2" r="0.95" fill="#111"/>
<circle cx="132.43" cy="272.7" r="0.95" fill="#111"/>
<circle cx="132.43" cy="315.6" r="0.95" fill="#111"/>
<path d="M160.85 305.8C161.15 306.1 162.07 306.82 162.65 307.6C163.23 308.38 163.9 309.32 164.35 310.5C164.8 311.68 165 313.22 165.35 314.7C165.7 316.18 166.17 318.03 166.45 319.4C166.73 320.77 167.05 321.83 167.05 322.9C167.05 323.97 166.55 325.32 166.45 325.8L145.85 325.8C145.75 325.32 145.25 323.97 145.25 322.9C145.25 321.83 145.57 320.77 145.85 319.4C146.13 318.03 146.6 316.18 146.95 314.7C147.3 313.22 147.5 311.68 147.95 310.5C148.4 309.32 149.07 308.38 149.65 307.6C150.23 306.82 151.15 306.1 151.45 305.8Z" fill="#999999" stroke="#3c3c3c" stroke-width="0.42"/>
<path d="M156.15 305.8V312.9M156.15 323.5V325.8" stroke="#444" stroke-width="0.38"/>
<rect x="153.85" y="312.9" width="4.6" height="10.6" fill="#999999" stroke="#3a3a3a" stroke-width="0.4"/>
<line x1="153.85" y1="318.2" x2="158.45" y2="318.2" stroke="#222" stroke-width="0.8"/>
<path d="M181.67 277.6C181.85 278.3 182.45 280.13 182.77 281.8C183.09 283.47 183.59 285.65 183.57 287.6C183.55 289.55 182.89 291.33 182.67 293.5C182.44 295.67 182.29 298.25 182.22 300.6C182.14 302.95 182.03 305.45 182.22 307.6C182.41 309.75 183.08 311.53 183.37 313.5C183.66 315.47 183.77 317.63 183.97 319.4C184.17 321.17 184.54 322.97 184.57 324.1C184.6 325.23 184.24 325.85 184.17 326.2L175.57 326.2C175.5 325.85 175.14 325.23 175.17 324.1C175.2 322.97 175.57 321.17 175.77 319.4C175.97 317.63 176.08 315.47 176.37 313.5C176.66 311.53 177.33 309.75 177.52 307.6C177.71 305.45 177.59 302.95 177.52 300.6C177.44 298.25 177.29 295.67 177.07 293.5C176.84 291.33 176.19 289.55 176.17 287.6C176.15 285.65 176.65 283.47 176.97 281.8C177.29 280.13 177.89 278.3 178.07 277.6Z" fill="#E69F00" stroke="#3c3c3c" stroke-width="0.42"/>
<path d="M179.87 277.6V292.9M179.87 321.7V326.2" stroke="#444" stroke-width="0.38"/>
<rect x="177.57" y="292.9" width="4.6" height="28.8" fill="#E69F00" stroke="#3a3a3a" stroke-width="0.4"/>
<line x1="177.57" y1="309.6" x2="182.17" y2="309.6" stroke="#222" stroke-width="0.8"/>
<line x1="132.43" y1="329.4" x2="132.43" y2="330.7" stroke="#555" stroke-width="0.4"/>
<text x="132.43" y="335.81" font-size="4.75" text-anchor="middle" font-weight="normal" fill="#454545" stroke="#454545" stroke-width="0.05" font-family="'Liberation Sans', Arial, sans-serif">Dry-Wet</text>
<line x1="156.15" y1="329.4" x2="156.15" y2="330.7" stroke="#555" stroke-width="0.4"/>
<text x="156.15" y="335.81" font-size="4.75" text-anchor="middle" font-weight="normal" fill="#454545" stroke="#454545" stroke-width="0.05" font-family="'Liberation Sans', Arial, sans-serif">Saturation</text>
<line x1="179.87" y1="329.4" x2="179.87" y2="330.7" stroke="#555" stroke-width="0.4"/>
<text x="179.87" y="335.81" font-size="4.75" text-anchor="middle" font-weight="normal" fill="#454545" stroke="#454545" stroke-width="0.05" font-family="'Liberation Sans', Arial, sans-serif">Wet-Dry</text>
<rect x="210.9" y="246.3" width="75.6" height="9" fill="#d9d9d9" stroke="#a3a3a3" stroke-width="0.7"/>
<text x="248.7" y="252.92" font-size="5.6" text-anchor="middle" font-weight="normal" fill="#2e2e2e" stroke="#2e2e2e" stroke-width="0.05" font-family="'Liberation Sans', Arial, sans-serif">Actinobacteria</text>
<rect x="210.9" y="255.3" width="75.6" height="74.1" fill="#fff" stroke="#c4c4c4" stroke-width="0.6"/>
<line x1="210.9" y1="255" x2="286.5" y2="255" stroke="#9a9a9a" stroke-width="0.8"/>
<line x1="209.6" y1="257.4" x2="210.9" y2="257.4" stroke="#555" stroke-width="0.4"/>
<text x="209.1" y="259.46" font-size="4.6" text-anchor="end" font-weight="normal" fill="#505050" stroke="#505050" stroke-width="0.05" font-family="'Liberation Sans', Arial, sans-serif">0.100</text>
<line x1="209.6" y1="275.7" x2="210.9" y2="275.7" stroke="#555" stroke-width="0.4"/>
<text x="209.1" y="277.76" font-size="4.6" text-anchor="end" font-weight="normal" fill="#505050" stroke="#505050" stroke-width="0.05" font-family="'Liberation Sans', Arial, sans-serif">0.075</text>
<line x1="209.6" y1="293.8" x2="210.9" y2="293.8" stroke="#555" stroke-width="0.4"/>
<text x="209.1" y="295.86" font-size="4.6" text-anchor="end" font-weight="normal" fill="#505050" stroke="#505050" stroke-width="0.05" font-family="'Liberation Sans', Arial, sans-serif">0.050</text>
<line x1="209.6" y1="311.8" x2="210.9" y2="311.8" stroke="#555" stroke-width="0.4"/>
<text x="209.1" y="313.86" font-size="4.6" text-anchor="end" font-weight="normal" fill="#505050" stroke="#505050" stroke-width="0.05" font-family="'Liberation Sans', Arial, sans-serif">0.025</text>
<line x1="209.6" y1="329.7" x2="210.9" y2="329.7" stroke="#555" stroke-width="0.4"/>
<text x="209.1" y="331.76" font-size="4.6" text-anchor="end" font-weight="normal" fill="#505050" stroke="#505050" stroke-width="0.05" font-family="'Liberation Sans', Arial, sans-serif">0.000</text>
<path d="M227.97 263.9C227.91 264.47 227.82 266.17 227.57 267.3C227.32 268.43 226.8 269.57 226.47 270.7C226.15 271.83 225.77 270.35 225.62 274.1C225.48 277.85 225.48 289.57 225.62 293.2C225.77 296.83 226 294.77 226.47 295.9C226.95 297.03 227.69 298.4 228.47 300C229.26 301.6 230.49 303.92 231.17 305.5C231.86 307.08 232.41 308.37 232.57 309.5C232.74 310.63 232.51 311.38 232.17 312.3C231.84 313.22 231.19 314.22 230.57 315C229.96 315.78 228.82 316.67 228.47 317L221.67 317C221.32 316.67 220.19 315.78 219.57 315C218.96 314.22 218.31 313.22 217.97 312.3C217.64 311.38 217.41 310.63 217.57 309.5C217.74 308.37 218.29 307.08 218.97 305.5C219.66 303.92 220.89 301.6 221.67 300C222.46 298.4 223.2 297.03 223.67 295.9C224.15 294.77 224.38 296.83 224.52 293.2C224.67 289.57 224.67 277.85 224.52 274.1C224.38 270.35 224 271.83 223.67 270.7C223.35 269.57 222.82 268.43 222.57 267.3C222.32 266.17 222.24 264.47 222.17 263.9Z" fill="#56B4E9" stroke="#3c3c3c" stroke-width="0.42"/>
<path d="M225.07 263.9V301.4M225.07 310.9V317" stroke="#444" stroke-width="0.38"/>
<rect x="222.77" y="301.4" width="4.6" height="9.5" fill="#56B4E9" stroke="#3a3a3a" stroke-width="0.4"/>
<line x1="222.77" y1="310.2" x2="227.38" y2="310.2" stroke="#7a2020" stroke-width="0.8"/>
<circle cx="225.07" cy="264.6" r="0.95" fill="#111"/>
<path d="M250.1 262.5C250.03 262.95 249.84 264.4 249.7 265.2C249.56 266 249.32 260.13 249.25 267.3C249.18 274.47 248.82 300.93 249.25 308.2C249.68 315.47 250.72 309.77 251.8 310.9C252.87 312.03 254.63 313.63 255.7 315C256.77 316.37 257.67 317.97 258.2 319.1C258.73 320.23 259.47 320.67 258.9 321.8C258.33 322.93 255.48 325.22 254.8 325.9L242.6 325.9C241.92 325.22 239.07 322.93 238.5 321.8C237.93 320.67 238.67 320.23 239.2 319.1C239.73 317.97 240.63 316.37 241.7 315C242.77 313.63 244.53 312.03 245.6 310.9C246.67 309.77 247.72 315.47 248.15 308.2C248.57 300.93 248.22 274.47 248.15 267.3C248.07 260.13 247.84 266 247.7 265.2C247.56 264.4 247.37 262.95 247.3 262.5Z" fill="#999999" stroke="#3c3c3c" stroke-width="0.42"/>
<path d="M248.7 262.5V317M248.7 323.2V325.9" stroke="#444" stroke-width="0.38"/>
<rect x="246.4" y="317" width="4.6" height="6.2" fill="#999999" stroke="#3a3a3a" stroke-width="0.4"/>
<line x1="246.4" y1="319.8" x2="251" y2="319.8" stroke="#222" stroke-width="0.8"/>
<circle cx="248.7" cy="262.6" r="0.95" fill="#111"/>
<path d="M276.43 258C276.48 258.63 276.78 260.03 276.72 261.8C276.67 263.57 276.36 266.32 276.07 268.6C275.79 270.88 275.32 273.68 275.02 275.5C274.73 277.32 274.54 277.92 274.32 279.5C274.11 281.08 273.92 282.27 273.72 285C273.52 287.73 273.23 292.95 273.12 295.9C273.02 298.85 273.16 300.8 273.12 302.7C273.09 304.6 272.96 306.53 272.93 307.3L271.72 307.3C271.69 306.53 271.56 304.6 271.52 302.7C271.49 300.8 271.62 298.85 271.52 295.9C271.42 292.95 271.12 287.73 270.93 285C270.73 282.27 270.54 281.08 270.32 279.5C270.11 277.92 269.92 277.32 269.62 275.5C269.33 273.68 268.86 270.88 268.57 268.6C268.29 266.32 267.98 263.57 267.93 261.8C267.87 260.03 268.17 258.63 268.22 258Z" fill="#E69F00" stroke="#3c3c3c" stroke-width="0.42"/>
<path d="M272.32 258V264.5M272.32 277.5V307.3" stroke="#444" stroke-width="0.38"/>
<rect x="270.02" y="264.5" width="4.6" height="13" fill="#E69F00" stroke="#3a3a3a" stroke-width="0.4"/>
<line x1="270.02" y1="272.5" x2="274.62" y2="272.5" stroke="#222" stroke-width="0.8"/>
<circle cx="272.32" cy="307.3" r="0.95" fill="#111"/>
<line x1="225.07" y1="329.4" x2="225.07" y2="330.7" stroke="#555" stroke-width="0.4"/>
<text x="225.07" y="335.81" font-size="4.75" text-anchor="middle" font-weight="normal" fill="#454545" stroke="#454545" stroke-width="0.05" font-family="'Liberation Sans', Arial, sans-serif">Dry-Wet</text>
<line x1="248.7" y1="329.4" x2="248.7" y2="330.7" stroke="#555" stroke-width="0.4"/>
<text x="248.7" y="335.81" font-size="4.75" text-anchor="middle" font-weight="normal" fill="#454545" stroke="#454545" stroke-width="0.05" font-family="'Liberation Sans', Arial, sans-serif">Saturation</text>
<line x1="272.32" y1="329.4" x2="272.32" y2="330.7" stroke="#555" stroke-width="0.4"/>
<text x="272.32" y="335.81" font-size="4.75" text-anchor="middle" font-weight="normal" fill="#454545" stroke="#454545" stroke-width="0.05" font-family="'Liberation Sans', Arial, sans-serif">Wet-Dry</text>
<rect x="300.4" y="246.3" width="76" height="9" fill="#d9d9d9" stroke="#a3a3a3" stroke-width="0.7"/>
<text x="338.4" y="252.92" font-size="5.6" text-anchor="middle" font-weight="normal" fill="#2e2e2e" stroke="#2e2e2e" stroke-width="0.05" font-family="'Liberation Sans', Arial, sans-serif">Bacteroidetes</text>
<rect x="300.4" y="255.3" width="76" height="74.1" fill="#fff" stroke="#c4c4c4" stroke-width="0.6"/>
<line x1="300.4" y1="255" x2="376.4" y2="255" stroke="#9a9a9a" stroke-width="0.8"/>
<line x1="299.1" y1="256.5" x2="300.4" y2="256.5" stroke="#555" stroke-width="0.4"/>
<text x="298.6" y="258.56" font-size="4.6" text-anchor="end" font-weight="normal" fill="#505050" stroke="#505050" stroke-width="0.05" font-family="'Liberation Sans', Arial, sans-serif">0.08</text>
<line x1="299.1" y1="275.3" x2="300.4" y2="275.3" stroke="#555" stroke-width="0.4"/>
<text x="298.6" y="277.36" font-size="4.6" text-anchor="end" font-weight="normal" fill="#505050" stroke="#505050" stroke-width="0.05" font-family="'Liberation Sans', Arial, sans-serif">0.06</text>
<line x1="299.1" y1="293.8" x2="300.4" y2="293.8" stroke="#555" stroke-width="0.4"/>
<text x="298.6" y="295.86" font-size="4.6" text-anchor="end" font-weight="normal" fill="#505050" stroke="#505050" stroke-width="0.05" font-family="'Liberation Sans', Arial, sans-serif">0.04</text>
<line x1="299.1" y1="312.9" x2="300.4" y2="312.9" stroke="#555" stroke-width="0.4"/>
<text x="298.6" y="314.96" font-size="4.6" text-anchor="end" font-weight="normal" fill="#505050" stroke="#505050" stroke-width="0.05" font-family="'Liberation Sans', Arial, sans-serif">0.02</text>
<path d="M316.45 281.6C316.38 282.05 316.05 283.05 316.05 284.3C316.05 285.55 316.15 287.62 316.45 289.1C316.75 290.58 317.07 291.95 317.85 293.2C318.63 294.45 319.95 295.23 321.15 296.6C322.35 297.97 324.93 299.92 325.05 301.4C325.17 302.88 323.18 304.15 321.85 305.5C320.52 306.85 318.17 308.15 317.05 309.5C315.93 310.85 315.17 312.23 315.15 313.6C315.12 314.97 316.25 316.33 316.9 317.7C317.55 319.07 318.76 320.77 319.05 321.8C319.34 322.83 318.72 323.55 318.65 323.9L310.65 323.9C310.58 323.55 309.96 322.83 310.25 321.8C310.54 320.77 311.75 319.07 312.4 317.7C313.05 316.33 314.17 314.97 314.15 313.6C314.12 312.23 313.37 310.85 312.25 309.5C311.13 308.15 308.78 306.85 307.45 305.5C306.12 304.15 304.13 302.88 304.25 301.4C304.37 299.92 306.95 297.97 308.15 296.6C309.35 295.23 310.67 294.45 311.45 293.2C312.23 291.95 312.55 290.58 312.85 289.1C313.15 287.62 313.25 285.55 313.25 284.3C313.25 283.05 312.92 282.05 312.85 281.6Z" fill="#56B4E9" stroke="#3c3c3c" stroke-width="0.42"/>
<path d="M314.65 281.6V300M314.65 306.8V323.9" stroke="#444" stroke-width="0.38"/>
<rect x="312.35" y="300" width="4.6" height="6.8" fill="#56B4E9" stroke="#3a3a3a" stroke-width="0.4"/>
<line x1="312.35" y1="302.7" x2="316.95" y2="302.7" stroke="#222" stroke-width="0.8"/>
<circle cx="314.65" cy="281.6" r="0.95" fill="#111"/>
<circle cx="314.65" cy="324.5" r="0.95" fill="#111"/>
<path d="M340.4 258.4C340.3 259.2 339.97 261.5 339.8 263.2C339.63 264.9 339.47 265.42 339.4 268.6C339.33 271.78 339.28 279.33 339.4 282.3C339.52 285.27 339.82 284.58 340.1 286.4C340.38 288.22 340.76 290.7 341.1 293.2C341.44 295.7 342.03 298.68 342.15 301.4C342.27 304.12 341.97 307.23 341.8 309.5C341.62 311.77 341.27 313.52 341.1 315C340.93 316.48 340.85 317.83 340.8 318.4L336 318.4C335.95 317.83 335.87 316.48 335.7 315C335.53 313.52 335.18 311.77 335 309.5C334.82 307.23 334.53 304.12 334.65 301.4C334.77 298.68 335.36 295.7 335.7 293.2C336.04 290.7 336.42 288.22 336.7 286.4C336.98 284.58 337.28 285.27 337.4 282.3C337.52 279.33 337.47 271.78 337.4 268.6C337.33 265.42 337.17 264.9 337 263.2C336.83 261.5 336.5 259.2 336.4 258.4Z" fill="#999999" stroke="#3c3c3c" stroke-width="0.42"/>
<path d="M338.4 258.4V286.4M338.4 309.5V318.4" stroke="#444" stroke-width="0.38"/>
<rect x="336.1" y="286.4" width="4.6" height="23.1" fill="#999999" stroke="#3a3a3a" stroke-width="0.4"/>
<line x1="336.1" y1="302" x2="340.7" y2="302" stroke="#222" stroke-width="0.8"/>
<path d="M364.05 296.2C364.08 296.75 364.25 298.35 364.25 299.5C364.25 300.65 363.98 301.9 364.05 303.1C364.12 304.3 364.3 305.48 364.65 306.7C365 307.92 365.6 309.18 366.15 310.4C366.7 311.62 367.4 312.8 367.95 314C368.5 315.2 368.97 316.38 369.45 317.6C369.93 318.82 370.48 320.2 370.85 321.3C371.22 322.4 371.57 323.42 371.65 324.2C371.73 324.98 371.4 325.7 371.35 326L352.95 326C352.9 325.7 352.57 324.98 352.65 324.2C352.73 323.42 353.08 322.4 353.45 321.3C353.82 320.2 354.37 318.82 354.85 317.6C355.33 316.38 355.8 315.2 356.35 314C356.9 312.8 357.6 311.62 358.15 310.4C358.7 309.18 359.3 307.92 359.65 306.7C360 305.48 360.18 304.3 360.25 303.1C360.32 301.9 360.05 300.65 360.05 299.5C360.05 298.35 360.22 296.75 360.25 296.2Z" fill="#E69F00" stroke="#3c3c3c" stroke-width="0.42"/>
<path d="M362.15 296.2V314.7M362.15 326V326" stroke="#444" stroke-width="0.38"/>
<rect x="359.85" y="314.7" width="4.6" height="11.3" fill="#E69F00" stroke="#3a3a3a" stroke-width="0.4"/>
<line x1="359.85" y1="320.2" x2="364.45" y2="320.2" stroke="#222" stroke-width="0.8"/>
<circle cx="362.15" cy="296.4" r="0.95" fill="#111"/>
<line x1="314.65" y1="329.4" x2="314.65" y2="330.7" stroke="#555" stroke-width="0.4"/>
<text x="314.65" y="335.81" font-size="4.75" text-anchor="middle" font-weight="normal" fill="#454545" stroke="#454545" stroke-width="0.05" font-family="'Liberation Sans', Arial, sans-serif">Dry-Wet</text>
<line x1="338.4" y1="329.4" x2="338.4" y2="330.7" stroke="#555" stroke-width="0.4"/>
<text x="338.4" y="335.81" font-size="4.75" text-anchor="middle" font-weight="normal" fill="#454545" stroke="#454545" stroke-width="0.05" font-family="'Liberation Sans', Arial, sans-serif">Saturation</text>
<line x1="362.15" y1="329.4" x2="362.15" y2="330.7" stroke="#555" stroke-width="0.4"/>
<text x="362.15" y="335.81" font-size="4.75" text-anchor="middle" font-weight="normal" fill="#454545" stroke="#454545" stroke-width="0.05" font-family="'Liberation Sans', Arial, sans-serif">Wet-Dry</text>
<rect x="26.3" y="338.8" width="76" height="8.8" fill="#d9d9d9" stroke="#a3a3a3" stroke-width="0.7"/>
<text x="64.3" y="345.32" font-size="5.6" text-anchor="middle" font-weight="normal" fill="#2e2e2e" stroke="#2e2e2e" stroke-width="0.05" font-family="'Liberation Sans', Arial, sans-serif">Firmicutes</text>
<rect x="26.3" y="347.6" width="76" height="74.2" fill="#fff" stroke="#c4c4c4" stroke-width="0.6"/>
<line x1="26.3" y1="347.3" x2="102.3" y2="347.3" stroke="#9a9a9a" stroke-width="0.8"/>
<line x1="25" y1="349.5" x2="26.3" y2="349.5" stroke="#555" stroke-width="0.4"/>
<text x="24.5" y="351.56" font-size="4.6" text-anchor="end" font-weight="normal" fill="#505050" stroke="#505050" stroke-width="0.05" font-family="'Liberation Sans', Arial, sans-serif">0.125</text>
<line x1="25" y1="363" x2="26.3" y2="363" stroke="#555" stroke-width="0.4"/>
<text x="24.5" y="365.06" font-size="4.6" text-anchor="end" font-weight="normal" fill="#505050" stroke="#505050" stroke-width="0.05" font-family="'Liberation Sans', Arial, sans-serif">0.100</text>
<line x1="25" y1="376.8" x2="26.3" y2="376.8" stroke="#555" stroke-width="0.4"/>
<text x="24.5" y="378.86" font-size="4.6" text-anchor="end" font-weight="normal" fill="#505050" stroke="#505050" stroke-width="0.05" font-family="'Liberation Sans', Arial, sans-serif">0.075</text>
<line x1="25" y1="390.9" x2="26.3" y2="390.9" stroke="#555" stroke-width="0.4"/>
<text x="24.5" y="392.96" font-size="4.6" text-anchor="end" font-weight="normal" fill="#505050" stroke="#505050" stroke-width="0.05" font-family="'Liberation Sans', Arial, sans-serif">0.050</text>
<line x1="25" y1="404.7" x2="26.3" y2="404.7" stroke="#555" stroke-width="0.4"/>
<text x="24.5" y="406.76" font-size="4.6" text-anchor="end" font-weight="normal" fill="#505050" stroke="#505050" stroke-width="0.05" font-family="'Liberation Sans', Arial, sans-serif">0.025</text>
<line x1="25" y1="418.3" x2="26.3" y2="418.3" stroke="#555" stroke-width="0.4"/>
<text x="24.5" y="420.36" font-size="4.6" text-anchor="end" font-weight="normal" fill="#505050" stroke="#505050" stroke-width="0.05" font-family="'Liberation Sans', Arial, sans-serif">0.000</text>
<path d="M42.65 397.4C42.7 398 42.65 400.1 42.95 401C43.25 401.9 43.83 402.1 44.45 402.8C45.07 403.5 46.75 404.5 46.65 405.2C46.55 405.9 44.72 406.4 43.85 407C42.98 407.6 41.93 408.3 41.45 408.8C40.97 409.3 41.03 409.1 40.95 410C40.87 410.9 40.67 413.3 40.95 414.2C41.23 415.1 42.27 415 42.65 415.4C43.03 415.8 43.35 416.2 43.25 416.6C43.15 417 42.25 417.6 42.05 417.8L39.05 417.8C38.85 417.6 37.95 417 37.85 416.6C37.75 416.2 38.07 415.8 38.45 415.4C38.83 415 39.87 415.1 40.15 414.2C40.43 413.3 40.23 410.9 40.15 410C40.07 409.1 40.13 409.3 39.65 408.8C39.17 408.3 38.12 407.6 37.25 407C36.38 406.4 34.55 405.9 34.45 405.2C34.35 404.5 36.03 403.5 36.65 402.8C37.27 402.1 37.85 401.9 38.15 401C38.45 400.1 38.4 398 38.45 397.4Z" fill="#56B4E9" stroke="#3c3c3c" stroke-width="0.42"/>
<path d="M40.55 397.4V397.4M40.55 407V417.8" stroke="#444" stroke-width="0.38"/>
<rect x="38.25" y="397.4" width="4.6" height="9.6" fill="#56B4E9" stroke="#3a3a3a" stroke-width="0.4"/>
<line x1="38.25" y1="405.9" x2="42.85" y2="405.9" stroke="#7a2020" stroke-width="0.8"/>
<circle cx="40.55" cy="416.9" r="0.95" fill="#111"/>
<path d="M66.7 409.3C66.78 409.7 66.5 411.03 67.2 411.7C67.9 412.37 69.62 412.78 70.9 413.3C72.18 413.82 74.23 414.37 74.9 414.8C75.57 415.23 74.9 415.72 74.9 415.9L53.7 415.9C53.7 415.72 53.03 415.23 53.7 414.8C54.37 414.37 56.42 413.82 57.7 413.3C58.98 412.78 60.7 412.37 61.4 411.7C62.1 411.03 61.82 409.7 61.9 409.3Z" fill="#999999" stroke="#3c3c3c" stroke-width="0.42"/>
<path d="M64.3 409.3V409.3M64.3 414.8V415.9" stroke="#444" stroke-width="0.38"/>
<rect x="62" y="409.3" width="4.6" height="5.5" fill="#999999" stroke="#3a3a3a" stroke-width="0.4"/>
<line x1="62" y1="415.4" x2="66.6" y2="415.4" stroke="#b22" stroke-width="0.8"/>
<path d="M88.4 349.6C88.4 351.33 88.37 350.72 88.4 360C88.42 369.28 88.19 397.6 88.55 405.3C88.91 413 90.22 403.98 90.55 406.2C90.88 408.42 90.55 416.53 90.55 418.6L85.55 418.6C85.55 416.53 85.22 408.42 85.55 406.2C85.88 403.98 87.19 413 87.55 405.3C87.91 397.6 87.67 369.28 87.7 360C87.73 350.72 87.7 351.33 87.7 349.6Z" fill="#E69F00" stroke="#3c3c3c" stroke-width="0.42"/>
<path d="M88.05 349.6V405.8M88.05 418.6V418.6" stroke="#444" stroke-width="0.38"/>
<rect x="85.75" y="405.8" width="4.6" height="12.8" fill="#E69F00" stroke="#3a3a3a" stroke-width="0.4"/>
<line x1="85.75" y1="417.6" x2="90.35" y2="417.6" stroke="#333" stroke-width="0.8"/>
<circle cx="88.05" cy="349.6" r="0.95" fill="#111"/>
<circle cx="88.05" cy="362.8" r="0.95" fill="#111"/>
<line x1="40.55" y1="421.8" x2="40.55" y2="423.1" stroke="#555" stroke-width="0.4"/>
<text x="40.55" y="428.21" font-size="4.75" text-anchor="middle" font-weight="normal" fill="#454545" stroke="#454545" stroke-width="0.05" font-family="'Liberation Sans', Arial, sans-serif">Dry-Wet</text>
<line x1="64.3" y1="421.8" x2="64.3" y2="423.1" stroke="#555" stroke-width="0.4"/>
<text x="64.3" y="428.21" font-size="4.75" text-anchor="middle" font-weight="normal" fill="#454545" stroke="#454545" stroke-width="0.05" font-family="'Liberation Sans', Arial, sans-serif">Saturation</text>
<line x1="88.05" y1="421.8" x2="88.05" y2="423.1" stroke="#555" stroke-width="0.4"/>
<text x="88.05" y="428.21" font-size="4.75" text-anchor="middle" font-weight="normal" fill="#454545" stroke="#454545" stroke-width="0.05" font-family="'Liberation Sans', Arial, sans-serif">Wet-Dry</text>
<rect x="118.2" y="338.8" width="75.9" height="8.8" fill="#d9d9d9" stroke="#a3a3a3" stroke-width="0.7"/>
<text x="156.15" y="345.32" font-size="5.6" text-anchor="middle" font-weight="normal" fill="#2e2e2e" stroke="#2e2e2e" stroke-width="0.05" font-family="'Liberation Sans', Arial, sans-serif">Gemmatimonadetes</text>
<rect x="118.2" y="347.6" width="75.9" height="74.2" fill="#fff" stroke="#c4c4c4" stroke-width="0.6"/>
<line x1="118.2" y1="347.3" x2="194.1" y2="347.3" stroke="#9a9a9a" stroke-width="0.8"/>
<line x1="116.9" y1="361" x2="118.2" y2="361" stroke="#555" stroke-width="0.4"/>
<text x="116.4" y="363.06" font-size="4.6" text-anchor="end" font-weight="normal" fill="#505050" stroke="#505050" stroke-width="0.05" font-family="'Liberation Sans', Arial, sans-serif">0.020</text>
<line x1="116.9" y1="376.5" x2="118.2" y2="376.5" stroke="#555" stroke-width="0.4"/>
<text x="116.4" y="378.56" font-size="4.6" text-anchor="end" font-weight="normal" fill="#505050" stroke="#505050" stroke-width="0.05" font-family="'Liberation Sans', Arial, sans-serif">0.015</text>
<line x1="116.9" y1="392.1" x2="118.2" y2="392.1" stroke="#555" stroke-width="0.4"/>
<text x="116.4" y="394.16" font-size="4.6" text-anchor="end" font-weight="normal" fill="#505050" stroke="#505050" stroke-width="0.05" font-family="'Liberation Sans', Arial, sans-serif">0.010</text>
<line x1="116.9" y1="407.6" x2="118.2" y2="407.6" stroke="#555" stroke-width="0.4"/>
<text x="116.4" y="409.66" font-size="4.6" text-anchor="end" font-weight="normal" fill="#505050" stroke="#505050" stroke-width="0.05" font-family="'Liberation Sans', Arial, sans-serif">0.005</text>
<path d="M132.73 350.4C132.75 353.17 132.8 357.9 132.83 367C132.86 376.1 132.93 397.32 132.93 405C132.93 412.68 132.85 411.75 132.83 413.1L132.03 413.1C132.01 411.75 131.93 412.68 131.93 405C131.93 397.32 132 376.1 132.03 367C132.06 357.9 132.11 353.17 132.13 350.4Z" fill="#56B4E9" stroke="#3c3c3c" stroke-width="0.42"/>
<path d="M132.43 350.4V367.5M132.43 405.6V413.1" stroke="#444" stroke-width="0.38"/>
<rect x="130.13" y="367.5" width="4.6" height="38.1" fill="#56B4E9" stroke="#3a3a3a" stroke-width="0.4"/>
<line x1="130.13" y1="399.1" x2="134.73" y2="399.1" stroke="#222" stroke-width="0.8"/>
<path d="M156.65 405.6C156.7 406.75 156.47 411.13 156.95 412.5C157.43 413.87 157.98 413.23 159.55 413.8C161.12 414.37 165.72 415.22 166.35 415.9C166.98 416.58 163.85 417.57 163.35 417.9L148.95 417.9C148.45 417.57 145.32 416.58 145.95 415.9C146.58 415.22 151.18 414.37 152.75 413.8C154.32 413.23 154.87 413.87 155.35 412.5C155.83 411.13 155.6 406.75 155.65 405.6Z" fill="#999999" stroke="#3c3c3c" stroke-width="0.42"/>
<path d="M156.15 405.6V414.6M156.15 417.2V417.9" stroke="#444" stroke-width="0.38"/>
<rect x="153.85" y="414.6" width="4.6" height="2.6" fill="#999999" stroke="#3a3a3a" stroke-width="0.4"/>
<line x1="153.85" y1="415.9" x2="158.45" y2="415.9" stroke="#b22" stroke-width="0.8"/>
<circle cx="156.15" cy="405.6" r="0.95" fill="#111"/>
<circle cx="156.15" cy="409" r="0.95" fill="#111"/>
<circle cx="156.15" cy="412.5" r="0.95" fill="#111"/>
<path d="M180.37 379.5C180.39 383.82 180.15 400.83 180.47 405.4C180.79 409.97 181.59 406.18 182.27 406.9C182.95 407.62 184.02 408.92 184.57 409.7C185.12 410.48 185.64 410.88 185.57 411.6C185.5 412.32 184.65 413.22 184.17 414C183.69 414.78 182.92 415.92 182.67 416.3L177.07 416.3C176.82 415.92 176.05 414.78 175.57 414C175.09 413.22 174.24 412.32 174.17 411.6C174.1 410.88 174.62 410.48 175.17 409.7C175.72 408.92 176.79 407.62 177.47 406.9C178.15 406.18 178.95 409.97 179.27 405.4C179.59 400.83 179.35 383.82 179.37 379.5Z" fill="#E69F00" stroke="#3c3c3c" stroke-width="0.42"/>
<path d="M179.87 379.5V409.7M179.87 414.4V416.3" stroke="#444" stroke-width="0.38"/>
<rect x="177.57" y="409.7" width="4.6" height="4.7" fill="#E69F00" stroke="#3a3a3a" stroke-width="0.4"/>
<line x1="177.57" y1="412" x2="182.17" y2="412" stroke="#222" stroke-width="0.8"/>
<circle cx="179.87" cy="379.5" r="0.95" fill="#111"/>
<line x1="132.43" y1="421.8" x2="132.43" y2="423.1" stroke="#555" stroke-width="0.4"/>
<text x="132.43" y="428.21" font-size="4.75" text-anchor="middle" font-weight="normal" fill="#454545" stroke="#454545" stroke-width="0.05" font-family="'Liberation Sans', Arial, sans-serif">Dry-Wet</text>
<line x1="156.15" y1="421.8" x2="156.15" y2="423.1" stroke="#555" stroke-width="0.4"/>
<text x="156.15" y="428.21" font-size="4.75" text-anchor="middle" font-weight="normal" fill="#454545" stroke="#454545" stroke-width="0.05" font-family="'Liberation Sans', Arial, sans-serif">Saturation</text>
<line x1="179.87" y1="421.8" x2="179.87" y2="423.1" stroke="#555" stroke-width="0.4"/>
<text x="179.87" y="428.21" font-size="4.75" text-anchor="middle" font-weight="normal" fill="#454545" stroke="#454545" stroke-width="0.05" font-family="'Liberation Sans', Arial, sans-serif">Wet-Dry</text>
<rect x="210.9" y="338.8" width="75.6" height="8.8" fill="#d9d9d9" stroke="#a3a3a3" stroke-width="0.7"/>
<text x="248.7" y="345.32" font-size="5.6" text-anchor="middle" font-weight="normal" fill="#2e2e2e" stroke="#2e2e2e" stroke-width="0.05" font-family="'Liberation Sans', Arial, sans-serif">Latescibacteria</text>
<rect x="210.9" y="347.6" width="75.6" height="74.2" fill="#fff" stroke="#c4c4c4" stroke-width="0.6"/>
<line x1="210.9" y1="347.3" x2="286.5" y2="347.3" stroke="#9a9a9a" stroke-width="0.8"/>
<line x1="209.6" y1="365.6" x2="210.9" y2="365.6" stroke="#555" stroke-width="0.4"/>
<text x="209.1" y="367.66" font-size="4.6" text-anchor="end" font-weight="normal" fill="#505050" stroke="#505050" stroke-width="0.05" font-family="'Liberation Sans', Arial, sans-serif">0.02</text>
<line x1="209.6" y1="392.6" x2="210.9" y2="392.6" stroke="#555" stroke-width="0.4"/>
<text x="209.1" y="394.66" font-size="4.6" text-anchor="end" font-weight="normal" fill="#505050" stroke="#505050" stroke-width="0.05" font-family="'Liberation Sans', Arial, sans-serif">0.01</text>
<line x1="209.6" y1="419.1" x2="210.9" y2="419.1" stroke="#555" stroke-width="0.4"/>
<text x="209.1" y="421.16" font-size="4.6" text-anchor="end" font-weight="normal" fill="#505050" stroke="#505050" stroke-width="0.05" font-family="'Liberation Sans', Arial, sans-serif">0.00</text>
<path d="M228.67 392.3C228.56 392.7 228.38 393.83 227.97 394.7C227.57 395.57 226.67 396.58 226.27 397.5C225.88 398.42 225.73 398.85 225.62 400.2C225.52 401.55 225.15 404.23 225.62 405.6C226.1 406.97 227.32 407.37 228.47 408.4C229.63 409.43 231.44 410.67 232.57 411.8C233.71 412.93 234.94 414.13 235.27 415.2C235.61 416.27 234.69 417.7 234.57 418.2L215.57 418.2C215.46 417.7 214.54 416.27 214.88 415.2C215.21 414.13 216.44 412.93 217.57 411.8C218.71 410.67 220.52 409.43 221.67 408.4C222.83 407.37 224.05 406.97 224.52 405.6C225 404.23 224.63 401.55 224.52 400.2C224.42 398.85 224.27 398.42 223.88 397.5C223.48 396.58 222.57 395.57 222.17 394.7C221.77 393.83 221.59 392.7 221.47 392.3Z" fill="#56B4E9" stroke="#3c3c3c" stroke-width="0.42"/>
<path d="M225.07 392.3V412.2M225.07 417.9V418.2" stroke="#444" stroke-width="0.38"/>
<rect x="222.77" y="412.2" width="4.6" height="5.7" fill="#56B4E9" stroke="#3a3a3a" stroke-width="0.4"/>
<line x1="222.77" y1="414.9" x2="227.38" y2="414.9" stroke="#222" stroke-width="0.8"/>
<circle cx="225.07" cy="392.7" r="0.95" fill="#111"/>
<circle cx="225.07" cy="394.7" r="0.95" fill="#111"/>
<path d="M249.7 350.4C249.77 351.65 249.97 355.52 250.1 357.9C250.23 360.28 250.35 362.43 250.5 364.7C250.65 366.97 250.92 367.95 251 371.5C251.08 375.05 251 381 251 386C251 391 251.08 398.45 251 401.5C250.92 404.55 250.65 402.97 250.5 404.3C250.35 405.63 250.17 408.63 250.1 409.5L247.3 409.5C247.23 408.63 247.05 405.63 246.9 404.3C246.75 402.97 246.48 404.55 246.4 401.5C246.32 398.45 246.4 391 246.4 386C246.4 381 246.32 375.05 246.4 371.5C246.48 367.95 246.75 366.97 246.9 364.7C247.05 362.43 247.17 360.28 247.3 357.9C247.43 355.52 247.63 351.65 247.7 350.4Z" fill="#999999" stroke="#3c3c3c" stroke-width="0.42"/>
<path d="M248.7 350.4V372.2M248.7 403.6V409.5" stroke="#444" stroke-width="0.38"/>
<rect x="246.4" y="372.2" width="4.6" height="31.4" fill="#999999" stroke="#3a3a3a" stroke-width="0.4"/>
<line x1="246.4" y1="379" x2="251" y2="379" stroke="#222" stroke-width="0.8"/>
<path d="M275.72 385.9C275.99 386.37 276.82 387.67 277.32 388.7C277.82 389.73 278.39 391.03 278.72 392.1C279.06 393.17 279.46 394.1 279.32 395.1C279.19 396.1 278.46 397.03 277.93 398.1C277.39 399.17 276.74 400.37 276.12 401.5C275.51 402.63 274.69 403.77 274.22 404.9C273.76 406.03 273.5 407.3 273.32 408.3C273.15 409.3 273.24 410.07 273.18 410.9C273.11 411.73 272.97 412.9 272.93 413.3L271.72 413.3C271.68 412.9 271.54 411.73 271.47 410.9C271.41 410.07 271.5 409.3 271.32 408.3C271.15 407.3 270.89 406.03 270.43 404.9C269.96 403.77 269.14 402.63 268.52 401.5C267.91 400.37 267.26 399.17 266.72 398.1C266.19 397.03 265.46 396.1 265.32 395.1C265.19 394.1 265.59 393.17 265.93 392.1C266.26 391.03 266.82 389.73 267.32 388.7C267.82 387.67 268.66 386.37 268.93 385.9Z" fill="#E69F00" stroke="#3c3c3c" stroke-width="0.42"/>
<path d="M272.32 385.9V390.8M272.32 398.5V413.3" stroke="#444" stroke-width="0.38"/>
<rect x="270.02" y="390.8" width="4.6" height="7.7" fill="#E69F00" stroke="#3a3a3a" stroke-width="0.4"/>
<line x1="270.02" y1="395.1" x2="274.62" y2="395.1" stroke="#222" stroke-width="0.8"/>
<circle cx="272.32" cy="413.3" r="0.95" fill="#111"/>
<line x1="225.07" y1="421.8" x2="225.07" y2="423.1" stroke="#555" stroke-width="0.4"/>
<text x="225.07" y="428.21" font-size="4.75" text-anchor="middle" font-weight="normal" fill="#454545" stroke="#454545" stroke-width="0.05" font-family="'Liberation Sans', Arial, sans-serif">Dry-Wet</text>
<line x1="248.7" y1="421.8" x2="248.7" y2="423.1" stroke="#555" stroke-width="0.4"/>
<text x="248.7" y="428.21" font-size="4.75" text-anchor="middle" font-weight="normal" fill="#454545" stroke="#454545" stroke-width="0.05" font-family="'Liberation Sans', Arial, sans-serif">Saturation</text>
<line x1="272.32" y1="421.8" x2="272.32" y2="423.1" stroke="#555" stroke-width="0.4"/>
<text x="272.32" y="428.21" font-size="4.75" text-anchor="middle" font-weight="normal" fill="#454545" stroke="#454545" stroke-width="0.05" font-family="'Liberation Sans', Arial, sans-serif">Wet-Dry</text>
<rect x="300.4" y="338.8" width="76" height="8.8" fill="#d9d9d9" stroke="#a3a3a3" stroke-width="0.7"/>
<text x="338.4" y="345.32" font-size="5.6" text-anchor="middle" font-weight="normal" fill="#2e2e2e" stroke="#2e2e2e" stroke-width="0.05" font-family="'Liberation Sans', Arial, sans-serif">Planctomycetes</text>
<rect x="300.4" y="347.6" width="76" height="74.2" fill="#fff" stroke="#c4c4c4" stroke-width="0.6"/>
<line x1="300.4" y1="347.3" x2="376.4" y2="347.3" stroke="#9a9a9a" stroke-width="0.8"/>
<line x1="299.1" y1="354.8" x2="300.4" y2="354.8" stroke="#555" stroke-width="0.4"/>
<text x="298.6" y="356.86" font-size="4.6" text-anchor="end" font-weight="normal" fill="#505050" stroke="#505050" stroke-width="0.05" font-family="'Liberation Sans', Arial, sans-serif">0.04</text>
<line x1="299.1" y1="376.5" x2="300.4" y2="376.5" stroke="#555" stroke-width="0.4"/>
<text x="298.6" y="378.56" font-size="4.6" text-anchor="end" font-weight="normal" fill="#505050" stroke="#505050" stroke-width="0.05" font-family="'Liberation Sans', Arial, sans-serif">0.03</text>
<line x1="299.1" y1="398.4" x2="300.4" y2="398.4" stroke="#555" stroke-width="0.4"/>
<text x="298.6" y="400.46" font-size="4.6" text-anchor="end" font-weight="normal" fill="#505050" stroke="#505050" stroke-width="0.05" font-family="'Liberation Sans', Arial, sans-serif">0.02</text>
<line x1="299.1" y1="419.8" x2="300.4" y2="419.8" stroke="#555" stroke-width="0.4"/>
<text x="298.6" y="421.86" font-size="4.6" text-anchor="end" font-weight="normal" fill="#505050" stroke="#505050" stroke-width="0.05" font-family="'Liberation Sans', Arial, sans-serif">0.01</text>
<path d="M317.25 373.2C317.48 373.83 318.12 375.68 318.65 377C319.18 378.32 319.87 379.52 320.45 381.1C321.03 382.68 321.7 384.45 322.15 386.5C322.6 388.55 322.98 391.35 323.15 393.4C323.32 395.45 323.27 397.17 323.15 398.8C323.03 400.43 322.57 402.47 322.45 403.2L306.85 403.2C306.73 402.47 306.27 400.43 306.15 398.8C306.03 397.17 305.98 395.45 306.15 393.4C306.32 391.35 306.7 388.55 307.15 386.5C307.6 384.45 308.27 382.68 308.85 381.1C309.43 379.52 310.12 378.32 310.65 377C311.18 375.68 311.82 373.83 312.05 373.2Z" fill="#56B4E9" stroke="#3c3c3c" stroke-width="0.42"/>
<path d="M314.65 373.2V387.2M314.65 399.5V403.2" stroke="#444" stroke-width="0.38"/>
<rect x="312.35" y="387.2" width="4.6" height="12.3" fill="#56B4E9" stroke="#3a3a3a" stroke-width="0.4"/>
<line x1="312.35" y1="391.7" x2="316.95" y2="391.7" stroke="#222" stroke-width="0.8"/>
<path d="M339.6 374.3C339.58 374.98 339.43 376.82 339.5 378.4C339.57 379.98 339.62 381.98 340 383.8C340.38 385.62 341.05 387.48 341.8 389.3C342.55 391.12 343.58 392.67 344.5 394.7C345.42 396.73 346.62 399.22 347.3 401.5C347.98 403.78 348.5 406.35 348.6 408.4C348.7 410.45 348.52 412.17 347.9 413.8C347.28 415.43 345.4 417.47 344.9 418.2L331.9 418.2C331.4 417.47 329.52 415.43 328.9 413.8C328.28 412.17 328.1 410.45 328.2 408.4C328.3 406.35 328.82 403.78 329.5 401.5C330.18 399.22 331.38 396.73 332.3 394.7C333.22 392.67 334.25 391.12 335 389.3C335.75 387.48 336.42 385.62 336.8 383.8C337.18 381.98 337.23 379.98 337.3 378.4C337.37 376.82 337.22 374.98 337.2 374.3Z" fill="#999999" stroke="#3c3c3c" stroke-width="0.42"/>
<path d="M338.4 374.3V401.5M338.4 413.1V418.2" stroke="#444" stroke-width="0.38"/>
<rect x="336.1" y="401.5" width="4.6" height="11.6" fill="#999999" stroke="#3a3a3a" stroke-width="0.4"/>
<line x1="336.1" y1="408.4" x2="340.7" y2="408.4" stroke="#222" stroke-width="0.8"/>
<circle cx="338.4" cy="374.4" r="0.95" fill="#111"/>
<path d="M363.15 350C363.27 350.87 363.33 353.43 363.85 355.2C364.37 356.97 365.28 358.78 366.25 360.6C367.22 362.42 368.63 364.17 369.65 366.1C370.67 368.03 372.23 370.38 372.35 372.2C372.47 374.02 371.2 375.28 370.35 377C369.5 378.72 368.33 380.68 367.25 382.5C366.17 384.32 364.57 386.08 363.85 387.9C363.12 389.72 362.95 391.58 362.9 393.4C362.85 395.22 363.19 397.22 363.55 398.8C363.91 400.38 364.73 401.53 365.05 402.9C365.37 404.27 365.65 405.75 365.45 407C365.25 408.25 364.12 409.83 363.85 410.4L360.45 410.4C360.18 409.83 359.05 408.25 358.85 407C358.65 405.75 358.93 404.27 359.25 402.9C359.57 401.53 360.39 400.38 360.75 398.8C361.11 397.22 361.45 395.22 361.4 393.4C361.35 391.58 361.18 389.72 360.45 387.9C359.72 386.08 358.13 384.32 357.05 382.5C355.97 380.68 354.8 378.72 353.95 377C353.1 375.28 351.83 374.02 351.95 372.2C352.07 370.38 353.63 368.03 354.65 366.1C355.67 364.17 357.08 362.42 358.05 360.6C359.02 358.78 359.93 356.97 360.45 355.2C360.97 353.43 361.03 350.87 361.15 350Z" fill="#E69F00" stroke="#3c3c3c" stroke-width="0.42"/>
<path d="M362.15 350V370.9M362.15 383.1V410.4" stroke="#444" stroke-width="0.38"/>
<rect x="359.85" y="370.9" width="4.6" height="12.2" fill="#E69F00" stroke="#3a3a3a" stroke-width="0.4"/>
<line x1="359.85" y1="374" x2="364.45" y2="374" stroke="#222" stroke-width="0.8"/>
<circle cx="362.15" cy="350.2" r="0.95" fill="#111"/>
<circle cx="362.15" cy="406.7" r="0.95" fill="#111"/>
<circle cx="362.15" cy="410.8" r="0.95" fill="#111"/>
<line x1="314.65" y1="421.8" x2="314.65" y2="423.1" stroke="#555" stroke-width="0.4"/>
<text x="314.65" y="428.21" font-size="4.75" text-anchor="middle" font-weight="normal" fill="#454545" stroke="#454545" stroke-width="0.05" font-family="'Liberation Sans', Arial, sans-serif">Dry-Wet</text>
<line x1="338.4" y1="421.8" x2="338.4" y2="423.1" stroke="#555" stroke-width="0.4"/>
<text x="338.4" y="428.21" font-size="4.75" text-anchor="middle" font-weight="normal" fill="#454545" stroke="#454545" stroke-width="0.05" font-family="'Liberation Sans', Arial, sans-serif">Saturation</text>
<line x1="362.15" y1="421.8" x2="362.15" y2="423.1" stroke="#555" stroke-width="0.4"/>
<text x="362.15" y="428.21" font-size="4.75" text-anchor="middle" font-weight="normal" fill="#454545" stroke="#454545" stroke-width="0.05" font-family="'Liberation Sans', Arial, sans-serif">Wet-Dry</text>
<rect x="26.3" y="430.4" width="76" height="8.7" fill="#d9d9d9" stroke="#a3a3a3" stroke-width="0.7"/>
<text x="64.3" y="436.87" font-size="5.6" text-anchor="middle" font-weight="normal" fill="#2e2e2e" stroke="#2e2e2e" stroke-width="0.05" font-family="'Liberation Sans', Arial, sans-serif">Proteobacteria</text>
<rect x="26.3" y="439.1" width="76" height="74.1" fill="#fff" stroke="#c4c4c4" stroke-width="0.6"/>
<line x1="26.3" y1="438.8" x2="102.3" y2="438.8" stroke="#9a9a9a" stroke-width="0.8"/>
<line x1="25" y1="452.9" x2="26.3" y2="452.9" stroke="#555" stroke-width="0.4"/>
<text x="24.5" y="454.96" font-size="4.6" text-anchor="end" font-weight="normal" fill="#505050" stroke="#505050" stroke-width="0.05" font-family="'Liberation Sans', Arial, sans-serif">0.35</text>
<line x1="25" y1="471.6" x2="26.3" y2="471.6" stroke="#555" stroke-width="0.4"/>
<text x="24.5" y="473.66" font-size="4.6" text-anchor="end" font-weight="normal" fill="#505050" stroke="#505050" stroke-width="0.05" font-family="'Liberation Sans', Arial, sans-serif">0.30</text>
<line x1="25" y1="489.7" x2="26.3" y2="489.7" stroke="#555" stroke-width="0.4"/>
<text x="24.5" y="491.76" font-size="4.6" text-anchor="end" font-weight="normal" fill="#505050" stroke="#505050" stroke-width="0.05" font-family="'Liberation Sans', Arial, sans-serif">0.25</text>
<line x1="25" y1="507.8" x2="26.3" y2="507.8" stroke="#555" stroke-width="0.4"/>
<text x="24.5" y="509.86" font-size="4.6" text-anchor="end" font-weight="normal" fill="#505050" stroke="#505050" stroke-width="0.05" font-family="'Liberation Sans', Arial, sans-serif">0.20</text>
<path d="M42.25 467C42.3 467.78 42.27 470 42.55 471.7C42.83 473.4 43.32 475.15 43.95 477.2C44.58 479.25 45.82 481.73 46.35 484C46.88 486.27 47.25 488.75 47.15 490.8C47.05 492.85 46.28 494.48 45.75 496.3C45.22 498.12 44.48 499.88 43.95 501.7C43.42 503.52 42.78 505.72 42.55 507.2C42.32 508.68 42.55 510.03 42.55 510.6L38.55 510.6C38.55 510.03 38.78 508.68 38.55 507.2C38.32 505.72 37.68 503.52 37.15 501.7C36.62 499.88 35.88 498.12 35.35 496.3C34.82 494.48 34.05 492.85 33.95 490.8C33.85 488.75 34.22 486.27 34.75 484C35.28 481.73 36.52 479.25 37.15 477.2C37.78 475.15 38.27 473.4 38.55 471.7C38.83 470 38.8 467.78 38.85 467Z" fill="#56B4E9" stroke="#3c3c3c" stroke-width="0.42"/>
<path d="M40.55 467V482.4M40.55 494.2V510.6" stroke="#444" stroke-width="0.38"/>
<rect x="38.25" y="482.4" width="4.6" height="11.8" fill="#56B4E9" stroke="#3a3a3a" stroke-width="0.4"/>
<line x1="38.25" y1="491.1" x2="42.85" y2="491.1" stroke="#222" stroke-width="0.8"/>
<path d="M65.9 442C65.97 442.87 66.15 445.2 66.3 447.2C66.45 449.2 66.62 451.73 66.8 454C66.98 456.27 67.19 458.53 67.4 460.8C67.61 463.07 67.83 465.32 68.05 467.6C68.27 469.88 68.64 472.45 68.7 474.5C68.76 476.55 68.62 478.08 68.4 479.9C68.18 481.72 67.63 483.47 67.4 485.4C67.17 487.33 67.07 490.48 67 491.5L61.6 491.5C61.53 490.48 61.43 487.33 61.2 485.4C60.97 483.47 60.42 481.72 60.2 479.9C59.98 478.08 59.84 476.55 59.9 474.5C59.96 472.45 60.33 469.88 60.55 467.6C60.77 465.32 60.99 463.07 61.2 460.8C61.41 458.53 61.62 456.27 61.8 454C61.98 451.73 62.15 449.2 62.3 447.2C62.45 445.2 62.63 442.87 62.7 442Z" fill="#999999" stroke="#3c3c3c" stroke-width="0.42"/>
<path d="M64.3 442V458.8M64.3 484V491.5" stroke="#444" stroke-width="0.38"/>
<rect x="62" y="458.8" width="4.6" height="25.2" fill="#999999" stroke="#3a3a3a" stroke-width="0.4"/>
<line x1="62" y1="474.5" x2="66.6" y2="474.5" stroke="#222" stroke-width="0.8"/>
<path d="M93.85 478.4C94.4 478.82 96.33 480.05 97.15 480.9C97.97 481.75 98.75 482.65 98.75 483.5C98.75 484.35 97.67 484.98 97.15 486C96.63 487.02 96.13 488.27 95.65 489.6C95.17 490.93 94.78 492.53 94.25 494C93.72 495.47 93.07 496.88 92.45 498.4C91.83 499.92 90.87 502.32 90.55 503.1L85.55 503.1C85.23 502.32 84.27 499.92 83.65 498.4C83.03 496.88 82.38 495.47 81.85 494C81.32 492.53 80.93 490.93 80.45 489.6C79.97 488.27 79.47 487.02 78.95 486C78.43 484.98 77.35 484.35 77.35 483.5C77.35 482.65 78.13 481.75 78.95 480.9C79.77 480.05 81.7 478.82 82.25 478.4Z" fill="#E69F00" stroke="#3c3c3c" stroke-width="0.42"/>
<path d="M88.05 478.4V483.1M88.05 492.2V503.1" stroke="#444" stroke-width="0.38"/>
<rect x="85.75" y="483.1" width="4.6" height="9.1" fill="#E69F00" stroke="#3a3a3a" stroke-width="0.4"/>
<line x1="85.75" y1="484.9" x2="90.35" y2="484.9" stroke="#222" stroke-width="0.8"/>
<line x1="40.55" y1="513.2" x2="40.55" y2="514.5" stroke="#555" stroke-width="0.4"/>
<text x="40.55" y="519.61" font-size="4.75" text-anchor="middle" font-weight="normal" fill="#454545" stroke="#454545" stroke-width="0.05" font-family="'Liberation Sans', Arial, sans-serif">Dry-Wet</text>
<line x1="64.3" y1="513.2" x2="64.3" y2="514.5" stroke="#555" stroke-width="0.4"/>
<text x="64.3" y="519.61" font-size="4.75" text-anchor="middle" font-weight="normal" fill="#454545" stroke="#454545" stroke-width="0.05" font-family="'Liberation Sans', Arial, sans-serif">Saturation</text>
<line x1="88.05" y1="513.2" x2="88.05" y2="514.5" stroke="#555" stroke-width="0.4"/>
<text x="88.05" y="519.61" font-size="4.75" text-anchor="middle" font-weight="normal" fill="#454545" stroke="#454545" stroke-width="0.05" font-family="'Liberation Sans', Arial, sans-serif">Wet-Dry</text>
<rect x="118.2" y="430.4" width="75.9" height="8.7" fill="#d9d9d9" stroke="#a3a3a3" stroke-width="0.7"/>
<text x="156.15" y="436.87" font-size="5.6" text-anchor="middle" font-weight="normal" fill="#2e2e2e" stroke="#2e2e2e" stroke-width="0.05" font-family="'Liberation Sans', Arial, sans-serif">Verrucomicrobia</text>
<rect x="118.2" y="439.1" width="75.9" height="74.1" fill="#fff" stroke="#c4c4c4" stroke-width="0.6"/>
<line x1="118.2" y1="438.8" x2="194.1" y2="438.8" stroke="#9a9a9a" stroke-width="0.8"/>
<line x1="116.9" y1="457.8" x2="118.2" y2="457.8" stroke="#555" stroke-width="0.4"/>
<text x="116.4" y="459.86" font-size="4.6" text-anchor="end" font-weight="normal" fill="#505050" stroke="#505050" stroke-width="0.05" font-family="'Liberation Sans', Arial, sans-serif">0.06</text>
<line x1="116.9" y1="481.2" x2="118.2" y2="481.2" stroke="#555" stroke-width="0.4"/>
<text x="116.4" y="483.26" font-size="4.6" text-anchor="end" font-weight="normal" fill="#505050" stroke="#505050" stroke-width="0.05" font-family="'Liberation Sans', Arial, sans-serif">0.04</text>
<line x1="116.9" y1="504.2" x2="118.2" y2="504.2" stroke="#555" stroke-width="0.4"/>
<text x="116.4" y="506.26" font-size="4.6" text-anchor="end" font-weight="normal" fill="#505050" stroke="#505050" stroke-width="0.05" font-family="'Liberation Sans', Arial, sans-serif">0.02</text>
<path d="M135.63 442C135.47 442.63 134.78 444.48 134.68 445.8C134.58 447.12 134.61 448.3 135.03 449.9C135.46 451.5 136.36 453.35 137.23 455.4C138.1 457.45 139.45 459.93 140.23 462.2C141.01 464.47 141.9 466.95 141.93 469C141.96 471.05 141.21 472.68 140.43 474.5C139.65 476.32 137.96 478.55 137.23 479.9C136.5 481.25 136.23 482.15 136.03 482.6L128.83 482.6C128.63 482.15 128.36 481.25 127.63 479.9C126.9 478.55 125.21 476.32 124.43 474.5C123.65 472.68 122.9 471.05 122.93 469C122.96 466.95 123.85 464.47 124.63 462.2C125.41 459.93 126.76 457.45 127.63 455.4C128.5 453.35 129.41 451.5 129.83 449.9C130.26 448.3 130.28 447.12 130.18 445.8C130.08 444.48 129.39 442.63 129.23 442Z" fill="#56B4E9" stroke="#3c3c3c" stroke-width="0.42"/>
<path d="M132.43 442V463.5M132.43 472.4V482.6" stroke="#444" stroke-width="0.38"/>
<rect x="130.13" y="463.5" width="4.6" height="8.9" fill="#56B4E9" stroke="#3a3a3a" stroke-width="0.4"/>
<line x1="130.13" y1="468.3" x2="134.73" y2="468.3" stroke="#222" stroke-width="0.8"/>
<circle cx="132.43" cy="442.2" r="0.95" fill="#111"/>
<path d="M160.55 456C160.58 456.8 160.8 457.95 160.75 460.8C160.7 463.65 160.45 469.23 160.25 473.1C160.05 476.97 159.83 480.6 159.55 484C159.28 487.4 158.9 490.55 158.6 493.5C158.3 496.45 158.01 498.85 157.75 501.7C157.49 504.55 157.17 509.12 157.05 510.6L155.25 510.6C155.13 509.12 154.81 504.55 154.55 501.7C154.29 498.85 154 496.45 153.7 493.5C153.4 490.55 153.03 487.4 152.75 484C152.47 480.6 152.25 476.97 152.05 473.1C151.85 469.23 151.6 463.65 151.55 460.8C151.5 457.95 151.72 456.8 151.75 456Z" fill="#999999" stroke="#3c3c3c" stroke-width="0.42"/>
<path d="M156.15 456V459.5M156.15 486V510.6" stroke="#444" stroke-width="0.38"/>
<rect x="153.85" y="459.5" width="4.6" height="26.5" fill="#999999" stroke="#3a3a3a" stroke-width="0.4"/>
<line x1="153.85" y1="473.1" x2="158.45" y2="473.1" stroke="#222" stroke-width="0.8"/>
<path d="M181.07 443.5C181.07 443.97 180.99 445.23 181.07 446.3C181.15 447.37 181.05 448.7 181.57 449.9C182.09 451.1 183.29 452.28 184.17 453.5C185.05 454.72 186 455.83 186.87 457.2C187.74 458.57 188.75 460.33 189.37 461.7C189.99 463.07 190.45 464.03 190.57 465.4C190.69 466.77 190.6 468.38 190.07 469.9C189.54 471.42 188.42 473.07 187.37 474.5C186.32 475.93 184.37 477.83 183.77 478.5L175.97 478.5C175.37 477.83 173.42 475.93 172.37 474.5C171.32 473.07 170.2 471.42 169.67 469.9C169.14 468.38 169.05 466.77 169.17 465.4C169.29 464.03 169.75 463.07 170.37 461.7C170.99 460.33 172 458.57 172.87 457.2C173.74 455.83 174.69 454.72 175.57 453.5C176.45 452.28 177.65 451.1 178.17 449.9C178.69 448.7 178.59 447.37 178.67 446.3C178.75 445.23 178.67 443.97 178.67 443.5Z" fill="#E69F00" stroke="#3c3c3c" stroke-width="0.42"/>
<path d="M179.87 443.5V460.8M179.87 471.3V478.5" stroke="#444" stroke-width="0.38"/>
<rect x="177.57" y="460.8" width="4.6" height="10.5" fill="#E69F00" stroke="#3a3a3a" stroke-width="0.4"/>
<line x1="177.57" y1="465.4" x2="182.17" y2="465.4" stroke="#222" stroke-width="0.8"/>
<circle cx="179.87" cy="443.6" r="0.95" fill="#111"/>
<line x1="132.43" y1="513.2" x2="132.43" y2="514.5" stroke="#555" stroke-width="0.4"/>
<text x="132.43" y="519.61" font-size="4.75" text-anchor="middle" font-weight="normal" fill="#454545" stroke="#454545" stroke-width="0.05" font-family="'Liberation Sans', Arial, sans-serif">Dry-Wet</text>
<line x1="156.15" y1="513.2" x2="156.15" y2="514.5" stroke="#555" stroke-width="0.4"/>
<text x="156.15" y="519.61" font-size="4.75" text-anchor="middle" font-weight="normal" fill="#454545" stroke="#454545" stroke-width="0.05" font-family="'Liberation Sans', Arial, sans-serif">Saturation</text>
<line x1="179.87" y1="513.2" x2="179.87" y2="514.5" stroke="#555" stroke-width="0.4"/>
<text x="179.87" y="519.61" font-size="4.75" text-anchor="middle" font-weight="normal" fill="#454545" stroke="#454545" stroke-width="0.05" font-family="'Liberation Sans', Arial, sans-serif">Wet-Dry</text>
<text x="8.2" y="386.45" font-size="5.7" text-anchor="middle" font-weight="bold" fill="#000" stroke="#000" stroke-width="0.22" font-family="'Liberation Sans', Arial, sans-serif" transform="rotate(-90 8.2 384.4)">Relative Abundance</text>
<text x="201" y="525.9" font-size="5.55" text-anchor="middle" font-weight="bold" fill="#000" stroke="#000" stroke-width="0.22" font-family="'Liberation Sans', Arial, sans-serif">Moisture Status</text>
<rect x="380.3" y="362.5" width="47.5" height="44" fill="#fff" stroke="#7a7a7a" stroke-width="0.55"/>
<text x="383" y="368.47" font-size="4.35" text-anchor="start" font-weight="normal" fill="#222" stroke="#222" stroke-width="0.05" font-family="'Liberation Sans', Arial, sans-serif">factor(MoistureStatus)</text>
<rect x="383.3" y="371" width="10.6" height="11.1" fill="#3f94c6" stroke="#333" stroke-width="0.5"/>
<line x1="384.3" y1="372.7" x2="392.9" y2="372.7" stroke="#74cdf8" stroke-width="0.95" stroke-dasharray="3.8 0.9"/>
<line x1="384.3" y1="374.95" x2="392.9" y2="374.95" stroke="#74cdf8" stroke-width="0.95" stroke-dasharray="3.8 0.9"/>
<line x1="384.3" y1="377.6" x2="392.9" y2="377.6" stroke="#74cdf8" stroke-width="0.95" stroke-dasharray="3.8 0.9"/>
<line x1="384.3" y1="380.3" x2="392.9" y2="380.3" stroke="#74cdf8" stroke-width="0.95" stroke-dasharray="3.8 0.9"/>
<line x1="388.6" y1="371.3" x2="388.6" y2="381.8" stroke="#333" stroke-width="0.35"/>
<text x="396.3" y="378.62" font-size="5.6" text-anchor="start" font-weight="normal" fill="#2b2b2b" stroke="#2b2b2b" stroke-width="0.05" font-family="'Liberation Sans', Arial, sans-serif">Dry-Wet</text>
<rect x="383.3" y="382.3" width="10.6" height="11.1" fill="#767676" stroke="#333" stroke-width="0.5"/>
<line x1="384.3" y1="384" x2="392.9" y2="384" stroke="#a6a6a6" stroke-width="0.95" stroke-dasharray="3.8 0.9"/>
<line x1="384.3" y1="386.25" x2="392.9" y2="386.25" stroke="#a6a6a6" stroke-width="0.95" stroke-dasharray="3.8 0.9"/>
<line x1="384.3" y1="388.9" x2="392.9" y2="388.9" stroke="#a6a6a6" stroke-width="0.95" stroke-dasharray="3.8 0.9"/>
<line x1="384.3" y1="391.6" x2="392.9" y2="391.6" stroke="#a6a6a6" stroke-width="0.95" stroke-dasharray="3.8 0.9"/>
<line x1="388.6" y1="382.6" x2="388.6" y2="393.1" stroke="#333" stroke-width="0.35"/>
<text x="396.3" y="389.92" font-size="5.6" text-anchor="start" font-weight="normal" fill="#2b2b2b" stroke="#2b2b2b" stroke-width="0.05" font-family="'Liberation Sans', Arial, sans-serif">Saturation</text>
<rect x="383.3" y="393.6" width="10.6" height="11.1" fill="#c88b00" stroke="#333" stroke-width="0.5"/>
<line x1="384.3" y1="395.3" x2="392.9" y2="395.3" stroke="#f7b21a" stroke-width="0.95" stroke-dasharray="3.8 0.9"/>
<line x1="384.3" y1="397.55" x2="392.9" y2="397.55" stroke="#f7b21a" stroke-width="0.95" stroke-dasharray="3.8 0.9"/>
<line x1="384.3" y1="400.2" x2="392.9" y2="400.2" stroke="#f7b21a" stroke-width="0.95" stroke-dasharray="3.8 0.9"/>
<line x1="384.3" y1="402.9" x2="392.9" y2="402.9" stroke="#f7b21a" stroke-width="0.95" stroke-dasharray="3.8 0.9"/>
<line x1="388.6" y1="393.9" x2="388.6" y2="404.4" stroke="#333" stroke-width="0.35"/>
<text x="396.3" y="401.22" font-size="5.6" text-anchor="start" font-weight="normal" fill="#2b2b2b" stroke="#2b2b2b" stroke-width="0.05" font-family="'Liberation Sans', Arial, sans-serif">Wet-Dry</text>
<text x="226.6" y="544.46" font-size="9.6" text-anchor="middle" font-weight="normal" fill="#111" stroke="#111" stroke-width="0" font-family="'Liberation Serif', 'Times New Roman', serif">(<tspan font-weight="bold">b</tspan>)</text>
</g>
</svg>
</body></html>
